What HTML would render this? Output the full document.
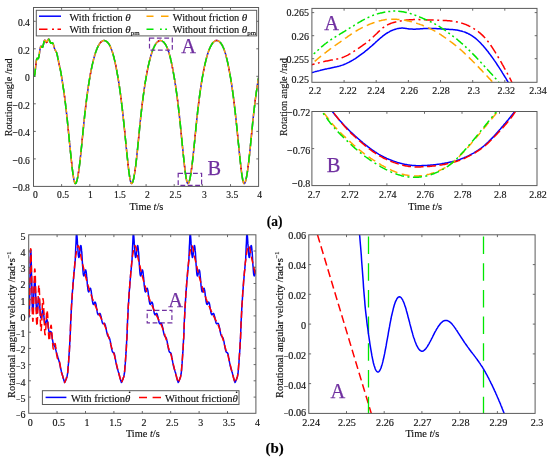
<!DOCTYPE html><html><head><meta charset="utf-8"><title>Figure</title><style>html,body{margin:0;padding:0;background:#fff}svg{display:block}</style></head><body>
<svg width="550" height="463" viewBox="0 0 550 463" font-family='"Liberation Serif", serif' fill="#111">
<rect width="550" height="463" fill="#fff"/>
<defs>
<clipPath id="c1"><rect x="33.5" y="7.5" width="225.1" height="178.9"/></clipPath>
<clipPath id="c2"><rect x="311.9" y="8.4" width="225.1" height="73.9"/></clipPath>
<clipPath id="c3"><rect x="311.9" y="111.5" width="225.1" height="74.1"/></clipPath>
<clipPath id="c4"><rect x="28.7" y="234.8" width="227.2" height="178.5"/></clipPath>
<clipPath id="c5"><rect x="308.8" y="234.8" width="226.3" height="178.6"/></clipPath>
</defs>
<g clip-path="url(#c1)" fill="none" stroke-width="1.5" stroke-linejoin="round">
<path d="M33.5 76.3L34.0 76.2L34.4 75.7L34.9 73.8L35.3 69.9L35.8 65.5L36.2 61.6L36.7 59.1L37.1 58.3L37.6 58.4L38.0 58.7L38.5 58.2L38.9 56.5L39.4 53.7L39.8 50.6L40.3 47.9L40.7 46.4L41.2 46.1L41.6 46.6L42.1 47.3L42.5 47.3L43.0 46.3L43.4 44.5L43.9 42.5L44.3 40.8L44.8 40.1L45.2 40.3L45.7 41.1L46.1 42.0L46.6 42.5L47.0 42.2L47.5 41.2L47.9 40.1L48.4 39.2L48.8 39.1L49.3 39.8L49.7 40.9L50.2 42.2L50.6 43.0L51.1 43.3L51.5 43.1L52.0 42.7L52.4 42.7L52.9 43.2L53.3 44.3L53.8 45.9L54.2 47.6L54.7 49.0L55.1 50.0L55.6 50.8L56.0 51.5L56.5 52.4L56.9 53.9L57.4 55.7L57.8 57.9L58.3 60.2L58.7 62.4L59.2 64.4L59.6 66.4L60.1 68.3L60.5 70.5L61.0 72.9L61.4 75.6L61.9 78.5L62.3 81.4L62.8 84.4L63.2 87.4L63.7 90.4L64.1 93.5L64.6 96.8L65.0 100.3L65.5 104.0L65.9 107.9L66.4 111.9L66.8 115.9L67.3 120.1L67.7 124.3L68.2 128.7L68.6 133.2L69.1 137.8L69.5 142.4L70.0 146.9L70.4 151.4L70.9 155.7L71.3 160.0L71.8 164.2L72.2 168.2L72.7 171.8L73.1 175.1L73.6 177.9L74.0 180.3L74.5 182.1L74.9 183.3L75.4 183.6L75.8 183.4L76.3 182.6L76.7 181.3L77.2 179.7L77.6 177.6L78.1 175.1L78.5 172.3L79.0 169.2L79.4 165.8L79.9 162.1L80.3 158.1L80.8 154.0L81.2 149.7L81.7 145.2L82.1 140.7L82.6 136.1L83.0 131.5L83.5 126.9L83.9 122.5L84.4 118.2L84.8 114.1L85.3 110.1L85.7 106.3L86.2 102.6L86.6 99.0L87.1 95.6L87.5 92.3L88.0 89.1L88.4 86.0L88.9 83.1L89.3 80.3L89.8 77.6L90.2 75.1L90.7 72.6L91.1 70.3L91.6 68.1L92.0 65.9L92.5 63.9L92.9 62.0L93.4 60.2L93.8 58.4L94.3 56.8L94.7 55.2L95.2 53.8L95.6 52.4L96.1 51.1L96.5 49.9L97.0 48.8L97.4 47.7L97.9 46.8L98.3 45.9L98.8 45.1L99.2 44.3L99.7 43.6L100.1 43.0L100.6 42.5L101.0 42.0L101.5 41.6L101.9 41.3L102.4 41.0L102.8 40.8L103.3 40.6L103.7 40.5L104.2 40.5L104.6 40.6L105.1 40.7L105.5 40.9L106.0 41.1L106.4 41.4L106.9 41.7L107.3 42.1L107.8 42.6L108.2 43.1L108.7 43.7L109.1 44.4L109.6 45.2L110.0 46.0L110.5 47.0L110.9 48.0L111.4 49.1L111.8 50.4L112.3 51.7L112.7 53.1L113.2 54.6L113.6 56.3L114.1 58.0L114.5 59.9L115.0 61.8L115.4 63.9L115.9 66.1L116.3 68.4L116.8 70.8L117.2 73.3L117.7 75.9L118.1 78.5L118.6 81.3L119.0 84.1L119.5 87.2L119.9 90.3L120.4 93.6L120.8 97.0L121.3 100.5L121.7 104.2L122.2 107.9L122.6 111.9L123.1 115.9L123.5 120.1L124.0 124.3L124.4 128.7L124.9 133.2L125.3 137.8L125.8 142.4L126.2 146.9L126.7 151.4L127.1 155.7L127.6 160.0L128.0 164.2L128.5 168.2L128.9 171.8L129.4 175.1L129.8 177.9L130.3 180.3L130.7 182.1L131.2 183.3L131.6 183.6L132.1 183.4L132.5 182.6L133.0 181.3L133.4 179.7L133.9 177.6L134.3 175.1L134.8 172.3L135.2 169.2L135.7 165.8L136.1 162.1L136.6 158.1L137.0 154.0L137.5 149.7L137.9 145.2L138.4 140.7L138.8 136.1L139.3 131.5L139.7 126.9L140.2 122.5L140.6 118.2L141.1 114.1L141.5 110.1L142.0 106.3L142.4 102.6L142.9 99.0L143.3 95.6L143.8 92.3L144.2 89.1L144.7 86.0L145.1 83.1L145.6 80.3L146.1 77.6L146.5 75.1L147.0 72.6L147.4 70.3L147.9 68.1L148.3 65.9L148.8 63.9L149.2 62.0L149.7 60.2L150.1 58.4L150.6 56.8L151.0 55.2L151.5 53.8L151.9 52.4L152.4 51.1L152.8 49.9L153.3 48.8L153.7 47.7L154.2 46.8L154.6 45.9L155.1 45.1L155.5 44.3L156.0 43.6L156.4 43.0L156.9 42.5L157.3 42.0L157.8 41.6L158.2 41.3L158.7 41.0L159.1 40.8L159.6 40.6L160.0 40.5L160.5 40.5L160.9 40.6L161.4 40.7L161.8 40.9L162.3 41.1L162.7 41.4L163.2 41.7L163.6 42.1L164.1 42.6L164.5 43.1L165.0 43.7L165.4 44.4L165.9 45.2L166.3 46.0L166.8 47.0L167.2 48.0L167.7 49.1L168.1 50.4L168.6 51.7L169.0 53.1L169.5 54.6L169.9 56.3L170.4 58.0L170.8 59.9L171.3 61.8L171.7 63.9L172.2 66.1L172.6 68.4L173.1 70.8L173.5 73.3L174.0 75.9L174.4 78.5L174.9 81.3L175.3 84.1L175.8 87.2L176.2 90.3L176.7 93.6L177.1 97.0L177.6 100.5L178.0 104.2L178.5 107.9L178.9 111.9L179.4 115.9L179.8 120.1L180.3 124.3L180.7 128.7L181.2 133.2L181.6 137.8L182.1 142.4L182.5 146.9L183.0 151.4L183.4 155.7L183.9 160.0L184.3 164.2L184.8 168.2L185.2 171.8L185.7 175.1L186.1 177.9L186.6 180.3L187.0 182.1L187.5 183.3L187.9 183.6L188.4 183.4L188.8 182.6L189.3 181.3L189.7 179.7L190.2 177.6L190.6 175.1L191.1 172.3L191.5 169.2L192.0 165.8L192.4 162.1L192.9 158.1L193.3 154.0L193.8 149.7L194.2 145.2L194.7 140.7L195.1 136.1L195.6 131.5L196.0 126.9L196.5 122.5L196.9 118.2L197.4 114.1L197.8 110.1L198.3 106.3L198.7 102.6L199.2 99.0L199.6 95.6L200.1 92.3L200.5 89.1L201.0 86.0L201.4 83.1L201.9 80.3L202.3 77.6L202.8 75.1L203.2 72.6L203.7 70.3L204.1 68.1L204.6 65.9L205.0 63.9L205.5 62.0L205.9 60.2L206.4 58.4L206.8 56.8L207.3 55.2L207.7 53.8L208.2 52.4L208.6 51.1L209.1 49.9L209.5 48.8L210.0 47.7L210.4 46.8L210.9 45.9L211.3 45.1L211.8 44.3L212.2 43.6L212.7 43.0L213.1 42.5L213.6 42.0L214.0 41.6L214.5 41.3L214.9 41.0L215.4 40.8L215.8 40.6L216.3 40.5L216.7 40.5L217.2 40.6L217.6 40.7L218.1 40.9L218.5 41.1L219.0 41.4L219.4 41.7L219.9 42.1L220.3 42.6L220.8 43.1L221.2 43.7L221.7 44.4L222.1 45.2L222.6 46.0L223.0 47.0L223.5 48.0L223.9 49.1L224.4 50.4L224.8 51.7L225.3 53.1L225.7 54.6L226.2 56.3L226.6 58.0L227.1 59.9L227.5 61.8L228.0 63.9L228.4 66.1L228.9 68.4L229.3 70.8L229.8 73.3L230.2 75.9L230.7 78.5L231.1 81.3L231.6 84.1L232.0 87.2L232.5 90.3L232.9 93.6L233.4 97.0L233.8 100.5L234.3 104.2L234.7 107.9L235.2 111.9L235.6 115.9L236.1 120.1L236.5 124.3L237.0 128.7L237.4 133.2L237.9 137.8L238.3 142.4L238.8 146.9L239.2 151.4L239.7 155.7L240.1 160.0L240.6 164.2L241.0 168.2L241.5 171.8L241.9 175.1L242.4 177.9L242.8 180.3L243.3 182.1L243.7 183.3L244.2 183.6L244.6 183.4L245.1 182.6L245.5 181.3L246.0 179.7L246.4 177.6L246.9 175.1L247.3 172.3L247.8 169.2L248.2 165.8L248.7 162.1L249.1 158.1L249.6 154.0L250.0 149.7L250.5 145.2L250.9 140.7L251.4 136.1L251.8 131.5L252.3 126.9L252.7 122.5L253.2 118.2L253.6 114.1L254.1 110.1L254.5 106.3L255.0 102.6L255.4 99.0L255.9 95.6L256.3 92.3L256.8 89.1L257.2 86.0L257.7 83.1L258.1 80.3L258.6 77.6" stroke="#0000ff"/>
<path d="M33.5 76.3L34.0 76.2L34.4 75.7L34.9 73.8L35.3 69.9L35.8 65.5L36.2 61.6L36.7 59.1L37.1 58.3L37.6 58.4L38.0 58.7L38.5 58.2L38.9 56.5L39.4 53.7L39.8 50.6L40.3 47.9L40.7 46.4L41.2 46.1L41.6 46.6L42.1 47.3L42.5 47.3L43.0 46.3L43.4 44.5L43.9 42.5L44.3 40.8L44.8 40.1L45.2 40.3L45.7 41.1L46.1 42.0L46.6 42.5L47.0 42.2L47.5 41.2L47.9 40.1L48.4 39.2L48.8 39.1L49.3 39.8L49.7 40.9L50.2 42.2L50.6 43.0L51.1 43.3L51.5 43.1L52.0 42.7L52.4 42.7L52.9 43.2L53.3 44.3L53.8 45.9L54.2 47.6L54.7 49.0L55.1 50.0L55.6 50.8L56.0 51.5L56.5 52.4L56.9 53.9L57.4 55.7L57.8 57.9L58.3 60.2L58.7 62.4L59.2 64.4L59.6 66.4L60.1 68.3L60.5 70.5L61.0 72.9L61.4 75.6L61.9 78.5L62.3 81.4L62.8 84.4L63.2 87.4L63.7 90.4L64.1 93.5L64.6 96.8L65.0 100.3L65.5 104.0L65.9 107.9L66.4 111.9L66.8 115.9L67.3 120.1L67.7 124.3L68.2 128.7L68.6 133.2L69.1 137.8L69.5 142.4L70.0 146.9L70.4 151.4L70.9 155.7L71.3 160.0L71.8 164.2L72.2 168.2L72.7 171.8L73.1 175.1L73.6 177.9L74.0 180.3L74.5 182.1L74.9 183.3L75.4 183.6L75.8 183.4L76.3 182.6L76.7 181.3L77.2 179.7L77.6 177.6L78.1 175.1L78.5 172.3L79.0 169.2L79.4 165.8L79.9 162.1L80.3 158.1L80.8 154.0L81.2 149.7L81.7 145.2L82.1 140.7L82.6 136.1L83.0 131.5L83.5 126.9L83.9 122.5L84.4 118.2L84.8 114.1L85.3 110.1L85.7 106.3L86.2 102.6L86.6 99.0L87.1 95.6L87.5 92.3L88.0 89.1L88.4 86.0L88.9 83.1L89.3 80.3L89.8 77.6L90.2 75.1L90.7 72.6L91.1 70.3L91.6 68.1L92.0 65.9L92.5 63.9L92.9 62.0L93.4 60.2L93.8 58.4L94.3 56.8L94.7 55.2L95.2 53.8L95.6 52.4L96.1 51.1L96.5 49.9L97.0 48.8L97.4 47.7L97.9 46.8L98.3 45.9L98.8 45.1L99.2 44.3L99.7 43.6L100.1 43.0L100.6 42.5L101.0 42.0L101.5 41.6L101.9 41.3L102.4 41.0L102.8 40.8L103.3 40.6L103.7 40.5L104.2 40.5L104.6 40.6L105.1 40.7L105.5 40.9L106.0 41.1L106.4 41.4L106.9 41.7L107.3 42.1L107.8 42.6L108.2 43.1L108.7 43.7L109.1 44.4L109.6 45.2L110.0 46.0L110.5 47.0L110.9 48.0L111.4 49.1L111.8 50.4L112.3 51.7L112.7 53.1L113.2 54.6L113.6 56.3L114.1 58.0L114.5 59.9L115.0 61.8L115.4 63.9L115.9 66.1L116.3 68.4L116.8 70.8L117.2 73.3L117.7 75.9L118.1 78.5L118.6 81.3L119.0 84.1L119.5 87.2L119.9 90.3L120.4 93.6L120.8 97.0L121.3 100.5L121.7 104.2L122.2 107.9L122.6 111.9L123.1 115.9L123.5 120.1L124.0 124.3L124.4 128.7L124.9 133.2L125.3 137.8L125.8 142.4L126.2 146.9L126.7 151.4L127.1 155.7L127.6 160.0L128.0 164.2L128.5 168.2L128.9 171.8L129.4 175.1L129.8 177.9L130.3 180.3L130.7 182.1L131.2 183.3L131.6 183.6L132.1 183.4L132.5 182.6L133.0 181.3L133.4 179.7L133.9 177.6L134.3 175.1L134.8 172.3L135.2 169.2L135.7 165.8L136.1 162.1L136.6 158.1L137.0 154.0L137.5 149.7L137.9 145.2L138.4 140.7L138.8 136.1L139.3 131.5L139.7 126.9L140.2 122.5L140.6 118.2L141.1 114.1L141.5 110.1L142.0 106.3L142.4 102.6L142.9 99.0L143.3 95.6L143.8 92.3L144.2 89.1L144.7 86.0L145.1 83.1L145.6 80.3L146.1 77.6L146.5 75.1L147.0 72.6L147.4 70.3L147.9 68.1L148.3 65.9L148.8 63.9L149.2 62.0L149.7 60.2L150.1 58.4L150.6 56.8L151.0 55.2L151.5 53.8L151.9 52.4L152.4 51.1L152.8 49.9L153.3 48.8L153.7 47.7L154.2 46.8L154.6 45.9L155.1 45.1L155.5 44.3L156.0 43.6L156.4 43.0L156.9 42.5L157.3 42.0L157.8 41.6L158.2 41.3L158.7 41.0L159.1 40.8L159.6 40.6L160.0 40.5L160.5 40.5L160.9 40.6L161.4 40.7L161.8 40.9L162.3 41.1L162.7 41.4L163.2 41.7L163.6 42.1L164.1 42.6L164.5 43.1L165.0 43.7L165.4 44.4L165.9 45.2L166.3 46.0L166.8 47.0L167.2 48.0L167.7 49.1L168.1 50.4L168.6 51.7L169.0 53.1L169.5 54.6L169.9 56.3L170.4 58.0L170.8 59.9L171.3 61.8L171.7 63.9L172.2 66.1L172.6 68.4L173.1 70.8L173.5 73.3L174.0 75.9L174.4 78.5L174.9 81.3L175.3 84.1L175.8 87.2L176.2 90.3L176.7 93.6L177.1 97.0L177.6 100.5L178.0 104.2L178.5 107.9L178.9 111.9L179.4 115.9L179.8 120.1L180.3 124.3L180.7 128.7L181.2 133.2L181.6 137.8L182.1 142.4L182.5 146.9L183.0 151.4L183.4 155.7L183.9 160.0L184.3 164.2L184.8 168.2L185.2 171.8L185.7 175.1L186.1 177.9L186.6 180.3L187.0 182.1L187.5 183.3L187.9 183.6L188.4 183.4L188.8 182.6L189.3 181.3L189.7 179.7L190.2 177.6L190.6 175.1L191.1 172.3L191.5 169.2L192.0 165.8L192.4 162.1L192.9 158.1L193.3 154.0L193.8 149.7L194.2 145.2L194.7 140.7L195.1 136.1L195.6 131.5L196.0 126.9L196.5 122.5L196.9 118.2L197.4 114.1L197.8 110.1L198.3 106.3L198.7 102.6L199.2 99.0L199.6 95.6L200.1 92.3L200.5 89.1L201.0 86.0L201.4 83.1L201.9 80.3L202.3 77.6L202.8 75.1L203.2 72.6L203.7 70.3L204.1 68.1L204.6 65.9L205.0 63.9L205.5 62.0L205.9 60.2L206.4 58.4L206.8 56.8L207.3 55.2L207.7 53.8L208.2 52.4L208.6 51.1L209.1 49.9L209.5 48.8L210.0 47.7L210.4 46.8L210.9 45.9L211.3 45.1L211.8 44.3L212.2 43.6L212.7 43.0L213.1 42.5L213.6 42.0L214.0 41.6L214.5 41.3L214.9 41.0L215.4 40.8L215.8 40.6L216.3 40.5L216.7 40.5L217.2 40.6L217.6 40.7L218.1 40.9L218.5 41.1L219.0 41.4L219.4 41.7L219.9 42.1L220.3 42.6L220.8 43.1L221.2 43.7L221.7 44.4L222.1 45.2L222.6 46.0L223.0 47.0L223.5 48.0L223.9 49.1L224.4 50.4L224.8 51.7L225.3 53.1L225.7 54.6L226.2 56.3L226.6 58.0L227.1 59.9L227.5 61.8L228.0 63.9L228.4 66.1L228.9 68.4L229.3 70.8L229.8 73.3L230.2 75.9L230.7 78.5L231.1 81.3L231.6 84.1L232.0 87.2L232.5 90.3L232.9 93.6L233.4 97.0L233.8 100.5L234.3 104.2L234.7 107.9L235.2 111.9L235.6 115.9L236.1 120.1L236.5 124.3L237.0 128.7L237.4 133.2L237.9 137.8L238.3 142.4L238.8 146.9L239.2 151.4L239.7 155.7L240.1 160.0L240.6 164.2L241.0 168.2L241.5 171.8L241.9 175.1L242.4 177.9L242.8 180.3L243.3 182.1L243.7 183.3L244.2 183.6L244.6 183.4L245.1 182.6L245.5 181.3L246.0 179.7L246.4 177.6L246.9 175.1L247.3 172.3L247.8 169.2L248.2 165.8L248.7 162.1L249.1 158.1L249.6 154.0L250.0 149.7L250.5 145.2L250.9 140.7L251.4 136.1L251.8 131.5L252.3 126.9L252.7 122.5L253.2 118.2L253.6 114.1L254.1 110.1L254.5 106.3L255.0 102.6L255.4 99.0L255.9 95.6L256.3 92.3L256.8 89.1L257.2 86.0L257.7 83.1L258.1 80.3L258.6 77.6" stroke="#ff0000" stroke-dasharray="0 11.7 1.8 19.7"/>
<path d="M33.5 76.3L34.0 76.2L34.4 75.7L34.9 73.8L35.3 69.9L35.8 65.5L36.2 61.6L36.7 59.1L37.1 58.3L37.6 58.4L38.0 58.7L38.5 58.2L38.9 56.5L39.4 53.7L39.8 50.6L40.3 47.9L40.7 46.4L41.2 46.1L41.6 46.6L42.1 47.3L42.5 47.3L43.0 46.3L43.4 44.5L43.9 42.5L44.3 40.8L44.8 40.1L45.2 40.3L45.7 41.1L46.1 42.0L46.6 42.5L47.0 42.2L47.5 41.2L47.9 40.1L48.4 39.2L48.8 39.1L49.3 39.8L49.7 40.9L50.2 42.2L50.6 43.0L51.1 43.3L51.5 43.1L52.0 42.7L52.4 42.7L52.9 43.2L53.3 44.3L53.8 45.9L54.2 47.6L54.7 49.0L55.1 50.0L55.6 50.8L56.0 51.5L56.5 52.4L56.9 53.9L57.4 55.7L57.8 57.9L58.3 60.2L58.7 62.4L59.2 64.4L59.6 66.4L60.1 68.3L60.5 70.5L61.0 72.9L61.4 75.6L61.9 78.5L62.3 81.4L62.8 84.4L63.2 87.4L63.7 90.4L64.1 93.5L64.6 96.8L65.0 100.3L65.5 104.0L65.9 107.9L66.4 111.9L66.8 115.9L67.3 120.1L67.7 124.3L68.2 128.7L68.6 133.2L69.1 137.8L69.5 142.4L70.0 146.9L70.4 151.4L70.9 155.7L71.3 160.0L71.8 164.2L72.2 168.2L72.7 171.8L73.1 175.1L73.6 177.9L74.0 180.3L74.5 182.1L74.9 183.3L75.4 183.6L75.8 183.4L76.3 182.6L76.7 181.3L77.2 179.7L77.6 177.6L78.1 175.1L78.5 172.3L79.0 169.2L79.4 165.8L79.9 162.1L80.3 158.1L80.8 154.0L81.2 149.7L81.7 145.2L82.1 140.7L82.6 136.1L83.0 131.5L83.5 126.9L83.9 122.5L84.4 118.2L84.8 114.1L85.3 110.1L85.7 106.3L86.2 102.6L86.6 99.0L87.1 95.6L87.5 92.3L88.0 89.1L88.4 86.0L88.9 83.1L89.3 80.3L89.8 77.6L90.2 75.1L90.7 72.6L91.1 70.3L91.6 68.1L92.0 65.9L92.5 63.9L92.9 62.0L93.4 60.2L93.8 58.4L94.3 56.8L94.7 55.2L95.2 53.8L95.6 52.4L96.1 51.1L96.5 49.9L97.0 48.8L97.4 47.7L97.9 46.8L98.3 45.9L98.8 45.1L99.2 44.3L99.7 43.6L100.1 43.0L100.6 42.5L101.0 42.0L101.5 41.6L101.9 41.3L102.4 41.0L102.8 40.8L103.3 40.6L103.7 40.5L104.2 40.5L104.6 40.6L105.1 40.7L105.5 40.9L106.0 41.1L106.4 41.4L106.9 41.7L107.3 42.1L107.8 42.6L108.2 43.1L108.7 43.7L109.1 44.4L109.6 45.2L110.0 46.0L110.5 47.0L110.9 48.0L111.4 49.1L111.8 50.4L112.3 51.7L112.7 53.1L113.2 54.6L113.6 56.3L114.1 58.0L114.5 59.9L115.0 61.8L115.4 63.9L115.9 66.1L116.3 68.4L116.8 70.8L117.2 73.3L117.7 75.9L118.1 78.5L118.6 81.3L119.0 84.1L119.5 87.2L119.9 90.3L120.4 93.6L120.8 97.0L121.3 100.5L121.7 104.2L122.2 107.9L122.6 111.9L123.1 115.9L123.5 120.1L124.0 124.3L124.4 128.7L124.9 133.2L125.3 137.8L125.8 142.4L126.2 146.9L126.7 151.4L127.1 155.7L127.6 160.0L128.0 164.2L128.5 168.2L128.9 171.8L129.4 175.1L129.8 177.9L130.3 180.3L130.7 182.1L131.2 183.3L131.6 183.6L132.1 183.4L132.5 182.6L133.0 181.3L133.4 179.7L133.9 177.6L134.3 175.1L134.8 172.3L135.2 169.2L135.7 165.8L136.1 162.1L136.6 158.1L137.0 154.0L137.5 149.7L137.9 145.2L138.4 140.7L138.8 136.1L139.3 131.5L139.7 126.9L140.2 122.5L140.6 118.2L141.1 114.1L141.5 110.1L142.0 106.3L142.4 102.6L142.9 99.0L143.3 95.6L143.8 92.3L144.2 89.1L144.7 86.0L145.1 83.1L145.6 80.3L146.1 77.6L146.5 75.1L147.0 72.6L147.4 70.3L147.9 68.1L148.3 65.9L148.8 63.9L149.2 62.0L149.7 60.2L150.1 58.4L150.6 56.8L151.0 55.2L151.5 53.8L151.9 52.4L152.4 51.1L152.8 49.9L153.3 48.8L153.7 47.7L154.2 46.8L154.6 45.9L155.1 45.1L155.5 44.3L156.0 43.6L156.4 43.0L156.9 42.5L157.3 42.0L157.8 41.6L158.2 41.3L158.7 41.0L159.1 40.8L159.6 40.6L160.0 40.5L160.5 40.5L160.9 40.6L161.4 40.7L161.8 40.9L162.3 41.1L162.7 41.4L163.2 41.7L163.6 42.1L164.1 42.6L164.5 43.1L165.0 43.7L165.4 44.4L165.9 45.2L166.3 46.0L166.8 47.0L167.2 48.0L167.7 49.1L168.1 50.4L168.6 51.7L169.0 53.1L169.5 54.6L169.9 56.3L170.4 58.0L170.8 59.9L171.3 61.8L171.7 63.9L172.2 66.1L172.6 68.4L173.1 70.8L173.5 73.3L174.0 75.9L174.4 78.5L174.9 81.3L175.3 84.1L175.8 87.2L176.2 90.3L176.7 93.6L177.1 97.0L177.6 100.5L178.0 104.2L178.5 107.9L178.9 111.9L179.4 115.9L179.8 120.1L180.3 124.3L180.7 128.7L181.2 133.2L181.6 137.8L182.1 142.4L182.5 146.9L183.0 151.4L183.4 155.7L183.9 160.0L184.3 164.2L184.8 168.2L185.2 171.8L185.7 175.1L186.1 177.9L186.6 180.3L187.0 182.1L187.5 183.3L187.9 183.6L188.4 183.4L188.8 182.6L189.3 181.3L189.7 179.7L190.2 177.6L190.6 175.1L191.1 172.3L191.5 169.2L192.0 165.8L192.4 162.1L192.9 158.1L193.3 154.0L193.8 149.7L194.2 145.2L194.7 140.7L195.1 136.1L195.6 131.5L196.0 126.9L196.5 122.5L196.9 118.2L197.4 114.1L197.8 110.1L198.3 106.3L198.7 102.6L199.2 99.0L199.6 95.6L200.1 92.3L200.5 89.1L201.0 86.0L201.4 83.1L201.9 80.3L202.3 77.6L202.8 75.1L203.2 72.6L203.7 70.3L204.1 68.1L204.6 65.9L205.0 63.9L205.5 62.0L205.9 60.2L206.4 58.4L206.8 56.8L207.3 55.2L207.7 53.8L208.2 52.4L208.6 51.1L209.1 49.9L209.5 48.8L210.0 47.7L210.4 46.8L210.9 45.9L211.3 45.1L211.8 44.3L212.2 43.6L212.7 43.0L213.1 42.5L213.6 42.0L214.0 41.6L214.5 41.3L214.9 41.0L215.4 40.8L215.8 40.6L216.3 40.5L216.7 40.5L217.2 40.6L217.6 40.7L218.1 40.9L218.5 41.1L219.0 41.4L219.4 41.7L219.9 42.1L220.3 42.6L220.8 43.1L221.2 43.7L221.7 44.4L222.1 45.2L222.6 46.0L223.0 47.0L223.5 48.0L223.9 49.1L224.4 50.4L224.8 51.7L225.3 53.1L225.7 54.6L226.2 56.3L226.6 58.0L227.1 59.9L227.5 61.8L228.0 63.9L228.4 66.1L228.9 68.4L229.3 70.8L229.8 73.3L230.2 75.9L230.7 78.5L231.1 81.3L231.6 84.1L232.0 87.2L232.5 90.3L232.9 93.6L233.4 97.0L233.8 100.5L234.3 104.2L234.7 107.9L235.2 111.9L235.6 115.9L236.1 120.1L236.5 124.3L237.0 128.7L237.4 133.2L237.9 137.8L238.3 142.4L238.8 146.9L239.2 151.4L239.7 155.7L240.1 160.0L240.6 164.2L241.0 168.2L241.5 171.8L241.9 175.1L242.4 177.9L242.8 180.3L243.3 182.1L243.7 183.3L244.2 183.6L244.6 183.4L245.1 182.6L245.5 181.3L246.0 179.7L246.4 177.6L246.9 175.1L247.3 172.3L247.8 169.2L248.2 165.8L248.7 162.1L249.1 158.1L249.6 154.0L250.0 149.7L250.5 145.2L250.9 140.7L251.4 136.1L251.8 131.5L252.3 126.9L252.7 122.5L253.2 118.2L253.6 114.1L254.1 110.1L254.5 106.3L255.0 102.6L255.4 99.0L255.9 95.6L256.3 92.3L256.8 89.1L257.2 86.0L257.7 83.1L258.1 80.3L258.6 77.6" stroke="#ffa500" stroke-dasharray="11.9 1.4 3.3 0"/>
<path d="M33.5 76.3L34.0 76.2L34.4 75.7L34.9 73.8L35.3 69.9L35.8 65.5L36.2 61.6L36.7 59.1L37.1 58.3L37.6 58.4L38.0 58.7L38.5 58.2L38.9 56.5L39.4 53.7L39.8 50.6L40.3 47.9L40.7 46.4L41.2 46.1L41.6 46.6L42.1 47.3L42.5 47.3L43.0 46.3L43.4 44.5L43.9 42.5L44.3 40.8L44.8 40.1L45.2 40.3L45.7 41.1L46.1 42.0L46.6 42.5L47.0 42.2L47.5 41.2L47.9 40.1L48.4 39.2L48.8 39.1L49.3 39.8L49.7 40.9L50.2 42.2L50.6 43.0L51.1 43.3L51.5 43.1L52.0 42.7L52.4 42.7L52.9 43.2L53.3 44.3L53.8 45.9L54.2 47.6L54.7 49.0L55.1 50.0L55.6 50.8L56.0 51.5L56.5 52.4L56.9 53.9L57.4 55.7L57.8 57.9L58.3 60.2L58.7 62.4L59.2 64.4L59.6 66.4L60.1 68.3L60.5 70.5L61.0 72.9L61.4 75.6L61.9 78.5L62.3 81.4L62.8 84.4L63.2 87.4L63.7 90.4L64.1 93.5L64.6 96.8L65.0 100.3L65.5 104.0L65.9 107.9L66.4 111.9L66.8 115.9L67.3 120.1L67.7 124.3L68.2 128.7L68.6 133.2L69.1 137.8L69.5 142.4L70.0 146.9L70.4 151.4L70.9 155.7L71.3 160.0L71.8 164.2L72.2 168.2L72.7 171.8L73.1 175.1L73.6 177.9L74.0 180.3L74.5 182.1L74.9 183.3L75.4 183.6L75.8 183.4L76.3 182.6L76.7 181.3L77.2 179.7L77.6 177.6L78.1 175.1L78.5 172.3L79.0 169.2L79.4 165.8L79.9 162.1L80.3 158.1L80.8 154.0L81.2 149.7L81.7 145.2L82.1 140.7L82.6 136.1L83.0 131.5L83.5 126.9L83.9 122.5L84.4 118.2L84.8 114.1L85.3 110.1L85.7 106.3L86.2 102.6L86.6 99.0L87.1 95.6L87.5 92.3L88.0 89.1L88.4 86.0L88.9 83.1L89.3 80.3L89.8 77.6L90.2 75.1L90.7 72.6L91.1 70.3L91.6 68.1L92.0 65.9L92.5 63.9L92.9 62.0L93.4 60.2L93.8 58.4L94.3 56.8L94.7 55.2L95.2 53.8L95.6 52.4L96.1 51.1L96.5 49.9L97.0 48.8L97.4 47.7L97.9 46.8L98.3 45.9L98.8 45.1L99.2 44.3L99.7 43.6L100.1 43.0L100.6 42.5L101.0 42.0L101.5 41.6L101.9 41.3L102.4 41.0L102.8 40.8L103.3 40.6L103.7 40.5L104.2 40.5L104.6 40.6L105.1 40.7L105.5 40.9L106.0 41.1L106.4 41.4L106.9 41.7L107.3 42.1L107.8 42.6L108.2 43.1L108.7 43.7L109.1 44.4L109.6 45.2L110.0 46.0L110.5 47.0L110.9 48.0L111.4 49.1L111.8 50.4L112.3 51.7L112.7 53.1L113.2 54.6L113.6 56.3L114.1 58.0L114.5 59.9L115.0 61.8L115.4 63.9L115.9 66.1L116.3 68.4L116.8 70.8L117.2 73.3L117.7 75.9L118.1 78.5L118.6 81.3L119.0 84.1L119.5 87.2L119.9 90.3L120.4 93.6L120.8 97.0L121.3 100.5L121.7 104.2L122.2 107.9L122.6 111.9L123.1 115.9L123.5 120.1L124.0 124.3L124.4 128.7L124.9 133.2L125.3 137.8L125.8 142.4L126.2 146.9L126.7 151.4L127.1 155.7L127.6 160.0L128.0 164.2L128.5 168.2L128.9 171.8L129.4 175.1L129.8 177.9L130.3 180.3L130.7 182.1L131.2 183.3L131.6 183.6L132.1 183.4L132.5 182.6L133.0 181.3L133.4 179.7L133.9 177.6L134.3 175.1L134.8 172.3L135.2 169.2L135.7 165.8L136.1 162.1L136.6 158.1L137.0 154.0L137.5 149.7L137.9 145.2L138.4 140.7L138.8 136.1L139.3 131.5L139.7 126.9L140.2 122.5L140.6 118.2L141.1 114.1L141.5 110.1L142.0 106.3L142.4 102.6L142.9 99.0L143.3 95.6L143.8 92.3L144.2 89.1L144.7 86.0L145.1 83.1L145.6 80.3L146.1 77.6L146.5 75.1L147.0 72.6L147.4 70.3L147.9 68.1L148.3 65.9L148.8 63.9L149.2 62.0L149.7 60.2L150.1 58.4L150.6 56.8L151.0 55.2L151.5 53.8L151.9 52.4L152.4 51.1L152.8 49.9L153.3 48.8L153.7 47.7L154.2 46.8L154.6 45.9L155.1 45.1L155.5 44.3L156.0 43.6L156.4 43.0L156.9 42.5L157.3 42.0L157.8 41.6L158.2 41.3L158.7 41.0L159.1 40.8L159.6 40.6L160.0 40.5L160.5 40.5L160.9 40.6L161.4 40.7L161.8 40.9L162.3 41.1L162.7 41.4L163.2 41.7L163.6 42.1L164.1 42.6L164.5 43.1L165.0 43.7L165.4 44.4L165.9 45.2L166.3 46.0L166.8 47.0L167.2 48.0L167.7 49.1L168.1 50.4L168.6 51.7L169.0 53.1L169.5 54.6L169.9 56.3L170.4 58.0L170.8 59.9L171.3 61.8L171.7 63.9L172.2 66.1L172.6 68.4L173.1 70.8L173.5 73.3L174.0 75.9L174.4 78.5L174.9 81.3L175.3 84.1L175.8 87.2L176.2 90.3L176.7 93.6L177.1 97.0L177.6 100.5L178.0 104.2L178.5 107.9L178.9 111.9L179.4 115.9L179.8 120.1L180.3 124.3L180.7 128.7L181.2 133.2L181.6 137.8L182.1 142.4L182.5 146.9L183.0 151.4L183.4 155.7L183.9 160.0L184.3 164.2L184.8 168.2L185.2 171.8L185.7 175.1L186.1 177.9L186.6 180.3L187.0 182.1L187.5 183.3L187.9 183.6L188.4 183.4L188.8 182.6L189.3 181.3L189.7 179.7L190.2 177.6L190.6 175.1L191.1 172.3L191.5 169.2L192.0 165.8L192.4 162.1L192.9 158.1L193.3 154.0L193.8 149.7L194.2 145.2L194.7 140.7L195.1 136.1L195.6 131.5L196.0 126.9L196.5 122.5L196.9 118.2L197.4 114.1L197.8 110.1L198.3 106.3L198.7 102.6L199.2 99.0L199.6 95.6L200.1 92.3L200.5 89.1L201.0 86.0L201.4 83.1L201.9 80.3L202.3 77.6L202.8 75.1L203.2 72.6L203.7 70.3L204.1 68.1L204.6 65.9L205.0 63.9L205.5 62.0L205.9 60.2L206.4 58.4L206.8 56.8L207.3 55.2L207.7 53.8L208.2 52.4L208.6 51.1L209.1 49.9L209.5 48.8L210.0 47.7L210.4 46.8L210.9 45.9L211.3 45.1L211.8 44.3L212.2 43.6L212.7 43.0L213.1 42.5L213.6 42.0L214.0 41.6L214.5 41.3L214.9 41.0L215.4 40.8L215.8 40.6L216.3 40.5L216.7 40.5L217.2 40.6L217.6 40.7L218.1 40.9L218.5 41.1L219.0 41.4L219.4 41.7L219.9 42.1L220.3 42.6L220.8 43.1L221.2 43.7L221.7 44.4L222.1 45.2L222.6 46.0L223.0 47.0L223.5 48.0L223.9 49.1L224.4 50.4L224.8 51.7L225.3 53.1L225.7 54.6L226.2 56.3L226.6 58.0L227.1 59.9L227.5 61.8L228.0 63.9L228.4 66.1L228.9 68.4L229.3 70.8L229.8 73.3L230.2 75.9L230.7 78.5L231.1 81.3L231.6 84.1L232.0 87.2L232.5 90.3L232.9 93.6L233.4 97.0L233.8 100.5L234.3 104.2L234.7 107.9L235.2 111.9L235.6 115.9L236.1 120.1L236.5 124.3L237.0 128.7L237.4 133.2L237.9 137.8L238.3 142.4L238.8 146.9L239.2 151.4L239.7 155.7L240.1 160.0L240.6 164.2L241.0 168.2L241.5 171.8L241.9 175.1L242.4 177.9L242.8 180.3L243.3 182.1L243.7 183.3L244.2 183.6L244.6 183.4L245.1 182.6L245.5 181.3L246.0 179.7L246.4 177.6L246.9 175.1L247.3 172.3L247.8 169.2L248.2 165.8L248.7 162.1L249.1 158.1L249.6 154.0L250.0 149.7L250.5 145.2L250.9 140.7L251.4 136.1L251.8 131.5L252.3 126.9L252.7 122.5L253.2 118.2L253.6 114.1L254.1 110.1L254.5 106.3L255.0 102.6L255.4 99.0L255.9 95.6L256.3 92.3L256.8 89.1L257.2 86.0L257.7 83.1L258.1 80.3L258.6 77.6" stroke="#00e600" stroke-dasharray="8.4 8.2"/>
</g>
<rect x="33.5" y="7.5" width="225.1" height="178.9" fill="none" stroke="#5a5a5a" stroke-width="1"/>
<path d="M61.6 186.4v-2.3M61.6 7.5v2.3M89.8 186.4v-2.3M89.8 7.5v2.3M117.9 186.4v-2.3M117.9 7.5v2.3M146.1 186.4v-2.3M146.1 7.5v2.3M174.2 186.4v-2.3M174.2 7.5v2.3M202.3 186.4v-2.3M202.3 7.5v2.3M230.5 186.4v-2.3M230.5 7.5v2.3M33.5 158.9h2.3M258.6 158.9h-2.3M33.5 131.4h2.3M258.6 131.4h-2.3M33.5 103.8h2.3M258.6 103.8h-2.3M33.5 76.3h2.3M258.6 76.3h-2.3M33.5 48.8h2.3M258.6 48.8h-2.3M33.5 21.3h2.3M258.6 21.3h-2.3" stroke="#5a5a5a" stroke-width="0.9" fill="none"/>
<text transform="translate(35.4 198.4) scale(0.96 1)" text-anchor="middle" font-size="10" stroke="#111" stroke-width="0.15">0</text>
<text transform="translate(63.1 198.4) scale(0.96 1)" text-anchor="middle" font-size="10" stroke="#111" stroke-width="0.15">0.5</text>
<text transform="translate(90.4 198.4) scale(0.96 1)" text-anchor="middle" font-size="10" stroke="#111" stroke-width="0.15">1</text>
<text transform="translate(119.9 198.4) scale(0.96 1)" text-anchor="middle" font-size="10" stroke="#111" stroke-width="0.15">1.5</text>
<text transform="translate(147.5 198.4) scale(0.96 1)" text-anchor="middle" font-size="10" stroke="#111" stroke-width="0.15">2</text>
<text transform="translate(175.6 198.4) scale(0.96 1)" text-anchor="middle" font-size="10" stroke="#111" stroke-width="0.15">2.5</text>
<text transform="translate(204.3 198.4) scale(0.96 1)" text-anchor="middle" font-size="10" stroke="#111" stroke-width="0.15">3</text>
<text transform="translate(232.3 198.4) scale(0.96 1)" text-anchor="middle" font-size="10" stroke="#111" stroke-width="0.15">3.5</text>
<text transform="translate(259.7 198.4) scale(0.96 1)" text-anchor="middle" font-size="10" stroke="#111" stroke-width="0.15">4</text>
<text transform="translate(29.9 191.1) scale(0.96 1)" text-anchor="end" font-size="10" stroke="#111" stroke-width="0.15">−0.8</text>
<text transform="translate(29.9 163.6) scale(0.96 1)" text-anchor="end" font-size="10" stroke="#111" stroke-width="0.15">−0.6</text>
<text transform="translate(29.9 136.1) scale(0.96 1)" text-anchor="end" font-size="10" stroke="#111" stroke-width="0.15">−0.4</text>
<text transform="translate(29.9 108.5) scale(0.96 1)" text-anchor="end" font-size="10" stroke="#111" stroke-width="0.15">−0.2</text>
<text transform="translate(29.9 81.0) scale(0.96 1)" text-anchor="end" font-size="10" stroke="#111" stroke-width="0.15">0</text>
<text transform="translate(29.9 53.5) scale(0.96 1)" text-anchor="end" font-size="10" stroke="#111" stroke-width="0.15">0.2</text>
<text transform="translate(29.9 26.0) scale(0.96 1)" text-anchor="end" font-size="10" stroke="#111" stroke-width="0.15">0.4</text>
<rect x="36.3" y="10.3" width="220.4" height="25.6" fill="#fff" stroke="#5a5a5a" stroke-width="1"/>
<g fill="none" stroke-width="1.5">
<path d="M39 16.2H61" stroke="#0000ff"/>
<path d="M39 29.3H61" stroke="#ff0000" stroke-dasharray="8.5 4.5 2 3.5 4 0"/>
<path d="M146.5 16.2H168.5" stroke="#ffa500" stroke-dasharray="7 7.5 8 0"/>
<path d="M146.5 29.3H168.5" stroke="#00e600" stroke-dasharray="7 6.5 1.8 3.4 1.8 3"/>
</g>
<text transform="translate(69.5 20.6) scale(0.985 1)" text-anchor="start" font-size="10.5" stroke="#111" stroke-width="0.15">With friction <tspan font-style="italic" font-size="11.3">θ</tspan></text>
<text transform="translate(69.5 32.9) scale(0.985 1)" text-anchor="start" font-size="10.5" stroke="#111" stroke-width="0.15">With friction <tspan font-style="italic" font-size="11.3">θ</tspan><tspan font-size="7" dy="2.2">pm</tspan></text>
<text transform="translate(172.8 20.6) scale(0.985 1)" text-anchor="start" font-size="10.5" stroke="#111" stroke-width="0.15">Without friction <tspan font-style="italic" font-size="11.3">θ</tspan></text>
<text transform="translate(172.8 32.9) scale(0.985 1)" text-anchor="start" font-size="10.5" stroke="#111" stroke-width="0.15">Without friction <tspan font-style="italic" font-size="11.3">θ</tspan><tspan font-size="7" dy="2.2">pm</tspan></text>
<g fill="none" stroke="#7030a0" stroke-width="1.2" stroke-dasharray="4.8 2.6">
<rect x="149.5" y="38.2" width="22.8" height="12"/>
<rect x="178.2" y="173.4" width="23.4" height="12"/>
<rect x="147.2" y="310.3" width="24.7" height="12.6"/>
</g>
<g fill="#7030a0" font-size="20.4" stroke="#7030a0" stroke-width="0.25">
<text x="181.3" y="53.3">A</text>
<text x="207.6" y="175">B</text>
<text x="168.3" y="306.9">A</text>
<text x="324.2" y="29.5">A</text>
<text x="326.8" y="172.4">B</text>
<text x="330.5" y="398.3">A</text>
</g>
<text transform="translate(146.5 209.7) scale(0.985 1)" text-anchor="middle" font-size="10.5" stroke="#111" stroke-width="0.15">Time <tspan font-style="italic">t</tspan>/s</text>
<text transform="translate(11.7 97.4) rotate(-90) scale(0.968 1)" text-anchor="middle" font-size="10.5" stroke="#111" stroke-width="0.15">Rotation angle /rad</text>
<path d="M305.0 74.2L306.0 74.0L307.1 73.7L308.1 73.5L309.2 73.2L310.2 72.9L311.2 72.7L312.3 72.4L313.3 72.2L314.4 71.9L315.4 71.6L316.4 71.4L317.5 71.1L318.5 70.9L319.6 70.6L320.6 70.3L321.6 70.1L322.7 69.8L323.7 69.6L324.8 69.3L325.8 69.1L326.8 68.9L327.9 68.6L328.9 68.4L330.0 68.2L331.0 68.0L332.0 67.8L333.1 67.6L334.1 67.3L335.2 67.1L336.2 66.9L337.2 66.6L338.3 66.4L339.3 66.1L340.4 65.8L341.4 65.4L342.4 65.1L343.5 64.7L344.5 64.3L345.6 63.9L346.6 63.4L347.6 62.9L348.7 62.4L349.7 61.8L350.8 61.3L351.8 60.7L352.8 60.1L353.9 59.4L354.9 58.8L356.0 58.1L357.0 57.4L358.1 56.7L359.1 55.9L360.1 55.2L361.2 54.4L362.2 53.7L363.3 52.9L364.3 52.1L365.3 51.2L366.4 50.4L367.4 49.6L368.5 48.7L369.5 47.8L370.5 46.9L371.6 46.0L372.6 45.1L373.7 44.1L374.7 43.2L375.7 42.2L376.8 41.3L377.8 40.3L378.9 39.4L379.9 38.5L380.9 37.6L382.0 36.8L383.0 35.9L384.1 35.1L385.1 34.4L386.1 33.7L387.2 33.0L388.2 32.4L389.3 31.8L390.3 31.2L391.3 30.7L392.4 30.3L393.4 29.9L394.5 29.5L395.5 29.2L396.5 28.9L397.6 28.6L398.6 28.4L399.7 28.3L400.7 28.2L401.7 28.1L402.8 28.1L403.8 28.2L404.9 28.3L405.9 28.4L406.9 28.6L408.0 28.7L409.0 28.9L410.1 29.0L411.1 29.1L412.1 29.1L413.2 29.2L414.2 29.2L415.3 29.2L416.3 29.1L417.3 29.1L418.4 29.0L419.4 28.9L420.5 28.8L421.5 28.8L422.5 28.7L423.6 28.6L424.6 28.5L425.7 28.5L426.7 28.4L427.7 28.4L428.8 28.4L429.8 28.4L430.9 28.4L431.9 28.5L432.9 28.5L434.0 28.5L435.0 28.6L436.1 28.6L437.1 28.7L438.1 28.7L439.2 28.8L440.2 28.8L441.3 28.9L442.3 29.0L443.3 29.0L444.4 29.1L445.4 29.1L446.5 29.2L447.5 29.2L448.5 29.3L449.6 29.4L450.6 29.4L451.7 29.5L452.7 29.6L453.7 29.7L454.8 29.8L455.8 30.0L456.9 30.1L457.9 30.3L458.9 30.5L460.0 30.8L461.0 31.0L462.1 31.3L463.1 31.6L464.2 31.9L465.2 32.3L466.2 32.7L467.3 33.2L468.3 33.7L469.4 34.2L470.4 34.8L471.4 35.4L472.5 36.1L473.5 36.8L474.6 37.6L475.6 38.4L476.6 39.3L477.7 40.3L478.7 41.2L479.8 42.2L480.8 43.3L481.8 44.4L482.9 45.6L483.9 46.7L485.0 48.0L486.0 49.2L487.0 50.5L488.1 51.8L489.1 53.2L490.2 54.6L491.2 56.0L492.2 57.4L493.3 58.9L494.3 60.4L495.4 61.9L496.4 63.4L497.4 65.0L498.5 66.6L499.5 68.2L500.6 69.8L501.6 71.4L502.6 73.1L503.7 74.8L504.7 76.5L505.8 78.2L506.8 80.0L507.8 81.7L508.9 83.5L509.9 85.3L511.0 87.1L512.0 89.0" stroke="#0000ff" stroke-width="1.5" fill="none" clip-path="url(#c2)" stroke-linejoin="round"/>
<path d="M305.0 66.2L306.1 66.0L307.1 65.8L308.2 65.5L309.2 65.3L310.3 65.0L311.3 64.8L312.4 64.5L313.4 64.2L314.5 64.0L315.6 63.7L316.6 63.4L317.7 63.1L318.7 62.9L319.8 62.6L320.8 62.3L321.9 62.1L322.9 61.8L324.0 61.6L325.1 61.3L326.1 61.1L327.2 60.9L328.2 60.7L329.3 60.5L330.3 60.3L331.4 60.1L332.4 59.9L333.5 59.7L334.5 59.5L335.6 59.3L336.7 59.1L337.7 58.9L338.8 58.6L339.8 58.4L340.9 58.0L341.9 57.7L343.0 57.3L344.0 56.9L345.1 56.4L346.2 55.9L347.2 55.4L348.3 54.8L349.3 54.2L350.4 53.6L351.4 52.9L352.5 52.2L353.5 51.6L354.6 50.9L355.7 50.2L356.7 49.5L357.8 48.8L358.8 48.1L359.9 47.3L360.9 46.6L362.0 45.9L363.0 45.2L364.1 44.4L365.2 43.6L366.2 42.8L367.3 42.0L368.3 41.2L369.4 40.3L370.4 39.4L371.5 38.5L372.5 37.5L373.6 36.5L374.6 35.5L375.7 34.5L376.8 33.5L377.8 32.4L378.9 31.4L379.9 30.5L381.0 29.5L382.0 28.6L383.1 27.7L384.1 27.0L385.2 26.2L386.3 25.6L387.3 25.0L388.4 24.4L389.4 24.0L390.5 23.5L391.5 23.1L392.6 22.8L393.6 22.5L394.7 22.2L395.8 21.9L396.8 21.7L397.9 21.5L398.9 21.2L400.0 21.0L401.0 20.9L402.1 20.7L403.1 20.5L404.2 20.4L405.3 20.2L406.3 20.1L407.4 20.0L408.4 19.9L409.5 19.8L410.5 19.8L411.6 19.7L412.6 19.7L413.7 19.6L414.7 19.6L415.8 19.6L416.9 19.6L417.9 19.6L419.0 19.6L420.0 19.7L421.1 19.7L422.1 19.7L423.2 19.7L424.2 19.8L425.3 19.8L426.4 19.8L427.4 19.9L428.5 19.9L429.5 19.9L430.6 19.9L431.6 20.0L432.7 20.0L433.7 20.0L434.8 20.1L435.9 20.1L436.9 20.1L438.0 20.2L439.0 20.2L440.1 20.3L441.1 20.3L442.2 20.4L443.2 20.4L444.3 20.5L445.4 20.5L446.4 20.6L447.5 20.7L448.5 20.8L449.6 20.8L450.6 21.0L451.7 21.1L452.7 21.2L453.8 21.4L454.8 21.5L455.9 21.7L457.0 21.9L458.0 22.1L459.1 22.4L460.1 22.7L461.2 23.0L462.2 23.3L463.3 23.6L464.3 24.0L465.4 24.4L466.5 24.8L467.5 25.3L468.6 25.8L469.6 26.3L470.7 26.8L471.7 27.4L472.8 28.0L473.8 28.6L474.9 29.3L476.0 30.0L477.0 30.7L478.1 31.5L479.1 32.3L480.2 33.2L481.2 34.1L482.3 35.1L483.3 36.1L484.4 37.2L485.5 38.4L486.5 39.6L487.6 41.0L488.6 42.3L489.7 43.8L490.7 45.3L491.8 46.8L492.8 48.4L493.9 50.1L494.9 51.7L496.0 53.5L497.1 55.2L498.1 57.0L499.2 58.8L500.2 60.6L501.3 62.4L502.3 64.3L503.4 66.2L504.4 68.1L505.5 70.0L506.6 71.9L507.6 73.9L508.7 75.9L509.7 77.9L510.8 80.0L511.8 82.1L512.9 84.2L513.9 86.3L515.0 88.5" stroke="#ff0000" stroke-width="1.5" fill="none" stroke-dasharray="9.8 3.5 2 3.5" clip-path="url(#c2)" stroke-linejoin="round"/>
<path d="M305.0 69.6L306.0 68.8L306.9 67.9L307.9 67.1L308.9 66.3L309.8 65.5L310.8 64.6L311.7 63.8L312.7 63.0L313.7 62.2L314.6 61.4L315.6 60.6L316.6 59.8L317.5 59.0L318.5 58.2L319.4 57.4L320.4 56.6L321.4 55.8L322.3 55.1L323.3 54.3L324.3 53.5L325.2 52.8L326.2 52.1L327.1 51.3L328.1 50.6L329.1 49.9L330.0 49.2L331.0 48.5L332.0 47.8L332.9 47.1L333.9 46.4L334.8 45.7L335.8 45.0L336.8 44.3L337.7 43.7L338.7 43.0L339.7 42.3L340.6 41.6L341.6 41.0L342.5 40.3L343.5 39.6L344.5 38.9L345.4 38.2L346.4 37.6L347.4 36.9L348.3 36.2L349.3 35.5L350.3 34.9L351.2 34.2L352.2 33.6L353.1 32.9L354.1 32.3L355.1 31.7L356.0 31.1L357.0 30.5L358.0 29.9L358.9 29.3L359.9 28.8L360.8 28.3L361.8 27.8L362.8 27.3L363.7 26.8L364.7 26.4L365.7 25.9L366.6 25.5L367.6 25.1L368.5 24.7L369.5 24.3L370.5 23.9L371.4 23.5L372.4 23.2L373.4 22.8L374.3 22.5L375.3 22.1L376.2 21.8L377.2 21.5L378.2 21.2L379.1 20.9L380.1 20.7L381.1 20.5L382.0 20.2L383.0 20.1L384.0 19.9L384.9 19.7L385.9 19.6L386.8 19.5L387.8 19.5L388.8 19.4L389.7 19.4L390.7 19.3L391.7 19.3L392.6 19.3L393.6 19.3L394.5 19.3L395.5 19.3L396.5 19.3L397.4 19.4L398.4 19.4L399.4 19.5L400.3 19.6L401.3 19.7L402.2 19.8L403.2 19.9L404.2 20.1L405.1 20.3L406.1 20.5L407.1 20.7L408.0 20.9L409.0 21.1L409.9 21.4L410.9 21.6L411.9 21.9L412.8 22.2L413.8 22.4L414.8 22.7L415.7 23.0L416.7 23.3L417.6 23.6L418.6 23.9L419.6 24.3L420.5 24.6L421.5 24.9L422.5 25.3L423.4 25.7L424.4 26.1L425.4 26.5L426.3 26.9L427.3 27.3L428.2 27.7L429.2 28.2L430.2 28.6L431.1 29.1L432.1 29.6L433.1 30.1L434.0 30.6L435.0 31.2L435.9 31.7L436.9 32.3L437.9 32.9L438.8 33.5L439.8 34.1L440.8 34.7L441.7 35.4L442.7 36.0L443.6 36.7L444.6 37.3L445.6 38.0L446.5 38.7L447.5 39.4L448.5 40.1L449.4 40.8L450.4 41.5L451.3 42.2L452.3 42.9L453.3 43.7L454.2 44.4L455.2 45.2L456.2 45.9L457.1 46.7L458.1 47.5L459.1 48.3L460.0 49.1L461.0 50.0L461.9 50.8L462.9 51.7L463.9 52.6L464.8 53.5L465.8 54.4L466.8 55.3L467.7 56.2L468.7 57.2L469.6 58.1L470.6 59.1L471.6 60.0L472.5 61.0L473.5 62.0L474.5 63.0L475.4 64.0L476.4 64.9L477.3 65.9L478.3 66.9L479.3 67.9L480.2 68.9L481.2 69.9L482.2 70.9L483.1 72.0L484.1 73.0L485.0 74.0L486.0 75.0L487.0 76.0L487.9 77.0L488.9 78.1L489.9 79.1L490.8 80.1L491.8 81.1L492.7 82.2L493.7 83.2L494.7 84.2L495.6 85.3L496.6 86.3" stroke="#ffa500" stroke-width="1.5" fill="none" stroke-dasharray="8.3 4.4" clip-path="url(#c2)" stroke-linejoin="round"/>
<path d="M305.0 61.7L306.0 60.9L307.0 60.0L308.0 59.1L309.0 58.2L309.9 57.4L310.9 56.5L311.9 55.6L312.9 54.7L313.9 53.8L314.9 52.9L315.9 51.9L316.9 51.1L317.9 50.2L318.9 49.3L319.8 48.4L320.8 47.5L321.8 46.7L322.8 45.9L323.8 45.0L324.8 44.2L325.8 43.5L326.8 42.7L327.8 42.0L328.8 41.3L329.7 40.6L330.7 39.9L331.7 39.2L332.7 38.6L333.7 37.9L334.7 37.3L335.7 36.7L336.7 36.1L337.7 35.5L338.7 34.9L339.6 34.3L340.6 33.7L341.6 33.1L342.6 32.5L343.6 31.9L344.6 31.3L345.6 30.7L346.6 30.1L347.6 29.5L348.6 28.9L349.5 28.2L350.5 27.6L351.5 27.0L352.5 26.4L353.5 25.8L354.5 25.1L355.5 24.5L356.5 23.9L357.5 23.3L358.5 22.7L359.4 22.1L360.4 21.6L361.4 21.0L362.4 20.4L363.4 19.9L364.4 19.3L365.4 18.8L366.4 18.3L367.4 17.8L368.4 17.3L369.3 16.9L370.3 16.4L371.3 16.0L372.3 15.6L373.3 15.2L374.3 14.9L375.3 14.5L376.3 14.2L377.3 13.9L378.3 13.6L379.2 13.4L380.2 13.1L381.2 12.9L382.2 12.7L383.2 12.5L384.2 12.3L385.2 12.1L386.2 11.9L387.2 11.7L388.2 11.6L389.1 11.5L390.1 11.4L391.1 11.3L392.1 11.2L393.1 11.1L394.1 11.1L395.1 11.1L396.1 11.1L397.1 11.2L398.1 11.2L399.0 11.3L400.0 11.4L401.0 11.5L402.0 11.7L403.0 11.8L404.0 12.0L405.0 12.2L406.0 12.4L407.0 12.6L408.0 12.8L408.9 13.1L409.9 13.4L410.9 13.7L411.9 14.0L412.9 14.3L413.9 14.7L414.9 15.1L415.9 15.5L416.9 15.9L417.9 16.3L418.8 16.7L419.8 17.1L420.8 17.5L421.8 17.9L422.8 18.3L423.8 18.8L424.8 19.2L425.8 19.6L426.8 20.0L427.8 20.5L428.7 20.9L429.7 21.4L430.7 21.8L431.7 22.3L432.7 22.8L433.7 23.3L434.7 23.8L435.7 24.4L436.7 24.9L437.7 25.5L438.6 26.1L439.6 26.7L440.6 27.3L441.6 28.0L442.6 28.7L443.6 29.3L444.6 30.0L445.6 30.7L446.6 31.4L447.6 32.1L448.5 32.9L449.5 33.6L450.5 34.3L451.5 35.1L452.5 35.8L453.5 36.6L454.5 37.3L455.5 38.1L456.5 38.9L457.5 39.7L458.4 40.5L459.4 41.4L460.4 42.2L461.4 43.1L462.4 43.9L463.4 44.8L464.4 45.7L465.4 46.6L466.4 47.6L467.4 48.5L468.3 49.5L469.3 50.4L470.3 51.4L471.3 52.4L472.3 53.4L473.3 54.4L474.3 55.4L475.3 56.4L476.3 57.4L477.3 58.5L478.2 59.5L479.2 60.6L480.2 61.6L481.2 62.7L482.2 63.7L483.2 64.8L484.2 65.9L485.2 67.0L486.2 68.0L487.2 69.1L488.1 70.2L489.1 71.3L490.1 72.4L491.1 73.5L492.1 74.6L493.1 75.8L494.1 76.9L495.1 78.0L496.1 79.1L497.1 80.3L498.0 81.5L499.0 82.6L500.0 83.8L501.0 85.0L502.0 86.2" stroke="#00e600" stroke-width="1.5" fill="none" stroke-dasharray="8.7 3 2 3 2 3" clip-path="url(#c2)" stroke-linejoin="round"/>
<rect x="311.9" y="8.4" width="225.1" height="73.9" fill="none" stroke="#5a5a5a" stroke-width="1"/>
<path d="M344.1 82.3v-2.3M344.1 8.4v2.3M376.2 82.3v-2.3M376.2 8.4v2.3M408.4 82.3v-2.3M408.4 8.4v2.3M440.5 82.3v-2.3M440.5 8.4v2.3M472.7 82.3v-2.3M472.7 8.4v2.3M504.8 82.3v-2.3M504.8 8.4v2.3M311.9 58.7h2.3M537.0 58.7h-2.3M311.9 35.7h2.3M537.0 35.7h-2.3M311.9 12.6h2.3M537.0 12.6h-2.3" stroke="#5a5a5a" stroke-width="0.9" fill="none"/>
<text transform="translate(315.1 93.8)" text-anchor="middle" font-size="10" stroke="#111" stroke-width="0.15">2.2</text>
<text transform="translate(348.1 93.8)" text-anchor="middle" font-size="10" stroke="#111" stroke-width="0.15">2.22</text>
<text transform="translate(375.9 93.8)" text-anchor="middle" font-size="10" stroke="#111" stroke-width="0.15">2.24</text>
<text transform="translate(409.2 93.8)" text-anchor="middle" font-size="10" stroke="#111" stroke-width="0.15">2.26</text>
<text transform="translate(441.1 93.8)" text-anchor="middle" font-size="10" stroke="#111" stroke-width="0.15">2.28</text>
<text transform="translate(473.8 93.8)" text-anchor="middle" font-size="10" stroke="#111" stroke-width="0.15">2.3</text>
<text transform="translate(506.2 93.8)" text-anchor="middle" font-size="10" stroke="#111" stroke-width="0.15">2.32</text>
<text transform="translate(538.0 93.8)" text-anchor="middle" font-size="10" stroke="#111" stroke-width="0.15">2.34</text>
<text transform="translate(308.9 83.2)" text-anchor="end" font-size="10" stroke="#111" stroke-width="0.15">0.25</text>
<text transform="translate(308.9 63.4)" text-anchor="end" font-size="10" stroke="#111" stroke-width="0.15">0.255</text>
<text transform="translate(308.9 40.4)" text-anchor="end" font-size="10" stroke="#111" stroke-width="0.15">0.26</text>
<text transform="translate(308.9 16.3)" text-anchor="end" font-size="10" stroke="#111" stroke-width="0.15">0.265</text>
<path d="M326.0 103.0L327.0 104.4L328.0 105.7L328.9 107.1L329.9 108.4L330.9 109.7L331.9 111.0L332.9 112.2L333.8 113.4L334.8 114.7L335.8 115.8L336.8 117.0L337.8 118.2L338.7 119.3L339.7 120.4L340.7 121.5L341.7 122.6L342.7 123.7L343.6 124.7L344.6 125.8L345.6 126.8L346.6 127.8L347.6 128.8L348.5 129.7L349.5 130.7L350.5 131.7L351.5 132.6L352.5 133.5L353.4 134.4L354.4 135.3L355.4 136.2L356.4 137.1L357.4 138.0L358.3 138.8L359.3 139.7L360.3 140.5L361.3 141.4L362.3 142.2L363.2 143.0L364.2 143.8L365.2 144.6L366.2 145.4L367.2 146.1L368.1 146.9L369.1 147.6L370.1 148.4L371.1 149.1L372.1 149.8L373.0 150.5L374.0 151.1L375.0 151.8L376.0 152.4L377.0 153.1L377.9 153.7L378.9 154.3L379.9 154.8L380.9 155.4L381.9 155.9L382.8 156.5L383.8 157.0L384.8 157.4L385.8 157.9L386.8 158.4L387.7 158.8L388.7 159.2L389.7 159.6L390.7 160.0L391.7 160.4L392.6 160.8L393.6 161.1L394.6 161.5L395.6 161.8L396.6 162.1L397.5 162.4L398.5 162.7L399.5 163.0L400.5 163.3L401.5 163.5L402.4 163.8L403.4 164.0L404.4 164.2L405.4 164.4L406.4 164.6L407.3 164.8L408.3 165.0L409.3 165.1L410.3 165.2L411.3 165.3L412.2 165.4L413.2 165.5L414.2 165.6L415.2 165.6L416.2 165.7L417.1 165.7L418.1 165.7L419.1 165.7L420.1 165.7L421.1 165.7L422.0 165.6L423.0 165.6L424.0 165.5L425.0 165.5L425.9 165.4L426.9 165.4L427.9 165.3L428.9 165.2L429.9 165.2L430.8 165.1L431.8 165.0L432.8 164.9L433.8 164.8L434.8 164.7L435.7 164.6L436.7 164.4L437.7 164.3L438.7 164.2L439.7 164.1L440.6 163.9L441.6 163.8L442.6 163.6L443.6 163.5L444.6 163.3L445.5 163.1L446.5 162.9L447.5 162.7L448.5 162.5L449.5 162.3L450.4 162.1L451.4 161.9L452.4 161.6L453.4 161.4L454.4 161.1L455.3 160.9L456.3 160.6L457.3 160.3L458.3 159.9L459.3 159.6L460.2 159.3L461.2 158.9L462.2 158.5L463.2 158.1L464.2 157.7L465.1 157.3L466.1 156.9L467.1 156.4L468.1 156.0L469.1 155.5L470.0 155.0L471.0 154.4L472.0 153.9L473.0 153.4L474.0 152.8L474.9 152.2L475.9 151.6L476.9 151.0L477.9 150.3L478.9 149.7L479.8 149.0L480.8 148.3L481.8 147.5L482.8 146.8L483.8 146.0L484.7 145.2L485.7 144.3L486.7 143.4L487.7 142.5L488.7 141.6L489.6 140.6L490.6 139.6L491.6 138.6L492.6 137.6L493.6 136.6L494.5 135.5L495.5 134.4L496.5 133.3L497.5 132.2L498.5 131.1L499.4 130.0L500.4 128.9L501.4 127.7L502.4 126.6L503.4 125.5L504.3 124.3L505.3 123.2L506.3 122.0L507.3 120.8L508.3 119.7L509.2 118.5L510.2 117.3L511.2 116.0L512.2 114.8L513.2 113.6L514.1 112.3L515.1 111.1L516.1 109.8L517.1 108.6L518.1 107.3L519.0 106.0L520.0 104.8L521.0 103.5" stroke="#0000ff" stroke-width="1.5" fill="none" clip-path="url(#c3)" stroke-linejoin="round"/>
<path d="M326.5 103.0L327.5 104.3L328.5 105.6L329.4 107.0L330.4 108.3L331.4 109.6L332.4 110.9L333.4 112.3L334.4 113.6L335.3 114.9L336.3 116.2L337.3 117.4L338.3 118.7L339.3 120.0L340.2 121.2L341.2 122.4L342.2 123.6L343.2 124.8L344.2 125.9L345.1 127.0L346.1 128.1L347.1 129.2L348.1 130.2L349.1 131.2L350.1 132.2L351.0 133.2L352.0 134.1L353.0 135.0L354.0 135.9L355.0 136.8L355.9 137.7L356.9 138.6L357.9 139.4L358.9 140.3L359.9 141.2L360.8 142.0L361.8 142.8L362.8 143.7L363.8 144.5L364.8 145.3L365.8 146.1L366.7 146.9L367.7 147.7L368.7 148.5L369.7 149.2L370.7 150.0L371.6 150.7L372.6 151.4L373.6 152.1L374.6 152.7L375.6 153.4L376.6 154.0L377.5 154.6L378.5 155.2L379.5 155.8L380.5 156.4L381.5 156.9L382.4 157.4L383.4 158.0L384.4 158.5L385.4 158.9L386.4 159.4L387.3 159.8L388.3 160.3L389.3 160.7L390.3 161.1L391.3 161.5L392.3 161.9L393.2 162.2L394.2 162.6L395.2 162.9L396.2 163.3L397.2 163.6L398.1 163.9L399.1 164.2L400.1 164.5L401.1 164.7L402.1 165.0L403.0 165.2L404.0 165.5L405.0 165.7L406.0 165.9L407.0 166.1L408.0 166.2L408.9 166.4L409.9 166.5L410.9 166.6L411.9 166.7L412.9 166.8L413.8 166.8L414.8 166.9L415.8 166.9L416.8 166.9L417.8 166.9L418.8 166.9L419.7 166.9L420.7 166.9L421.7 166.8L422.7 166.8L423.7 166.8L424.6 166.7L425.6 166.7L426.6 166.6L427.6 166.5L428.6 166.5L429.5 166.4L430.5 166.3L431.5 166.2L432.5 166.1L433.5 166.0L434.5 165.9L435.4 165.8L436.4 165.7L437.4 165.5L438.4 165.4L439.4 165.3L440.3 165.1L441.3 164.9L442.3 164.8L443.3 164.6L444.3 164.4L445.3 164.2L446.2 164.0L447.2 163.8L448.2 163.6L449.2 163.4L450.2 163.1L451.1 162.9L452.1 162.7L453.1 162.4L454.1 162.1L455.1 161.8L456.0 161.5L457.0 161.2L458.0 160.9L459.0 160.5L460.0 160.2L461.0 159.8L461.9 159.4L462.9 159.0L463.9 158.6L464.9 158.2L465.9 157.7L466.8 157.2L467.8 156.7L468.8 156.2L469.8 155.7L470.8 155.2L471.7 154.7L472.7 154.1L473.7 153.5L474.7 153.0L475.7 152.4L476.7 151.7L477.6 151.1L478.6 150.5L479.6 149.8L480.6 149.1L481.6 148.4L482.5 147.7L483.5 146.9L484.5 146.1L485.5 145.3L486.5 144.5L487.5 143.6L488.4 142.7L489.4 141.7L490.4 140.8L491.4 139.8L492.4 138.8L493.3 137.8L494.3 136.8L495.3 135.8L496.3 134.7L497.3 133.7L498.2 132.6L499.2 131.6L500.2 130.5L501.2 129.4L502.2 128.4L503.2 127.3L504.1 126.2L505.1 125.1L506.1 123.9L507.1 122.8L508.1 121.6L509.0 120.4L510.0 119.1L511.0 117.9L512.0 116.5L513.0 115.2L513.9 113.8L514.9 112.4L515.9 111.1L516.9 109.7L517.9 108.4L518.9 107.0L519.8 105.8L520.8 104.6L521.8 103.5" stroke="#ff0000" stroke-width="1.5" fill="none" stroke-dasharray="9 3.5" clip-path="url(#c3)" stroke-linejoin="round"/>
<path d="M317.0 103.0L317.9 104.3L318.9 105.7L319.8 107.0L320.8 108.3L321.7 109.7L322.7 111.0L323.6 112.3L324.5 113.7L325.5 115.0L326.4 116.2L327.4 117.5L328.3 118.8L329.2 120.0L330.2 121.2L331.1 122.4L332.1 123.6L333.0 124.7L334.0 125.8L334.9 126.9L335.8 127.9L336.8 128.9L337.7 129.9L338.7 130.9L339.6 131.8L340.6 132.8L341.5 133.7L342.4 134.6L343.4 135.5L344.3 136.4L345.3 137.2L346.2 138.1L347.2 139.0L348.1 139.9L349.0 140.7L350.0 141.6L350.9 142.5L351.9 143.4L352.8 144.2L353.7 145.1L354.7 145.9L355.6 146.7L356.6 147.5L357.5 148.4L358.5 149.1L359.4 149.9L360.3 150.7L361.3 151.4L362.2 152.2L363.2 152.9L364.1 153.6L365.1 154.3L366.0 155.0L366.9 155.7L367.9 156.3L368.8 157.0L369.8 157.6L370.7 158.3L371.6 158.9L372.6 159.5L373.5 160.1L374.5 160.7L375.4 161.3L376.4 161.9L377.3 162.5L378.2 163.1L379.2 163.7L380.1 164.2L381.1 164.8L382.0 165.3L383.0 165.8L383.9 166.4L384.8 166.9L385.8 167.4L386.7 167.9L387.7 168.4L388.6 168.8L389.6 169.3L390.5 169.7L391.4 170.2L392.4 170.6L393.3 171.0L394.3 171.4L395.2 171.8L396.1 172.1L397.1 172.5L398.0 172.8L399.0 173.1L399.9 173.4L400.9 173.7L401.8 174.0L402.7 174.2L403.7 174.4L404.6 174.7L405.6 174.9L406.5 175.1L407.5 175.2L408.4 175.4L409.3 175.5L410.3 175.6L411.2 175.7L412.2 175.8L413.1 175.9L414.0 175.9L415.0 176.0L415.9 176.0L416.9 176.0L417.8 176.0L418.8 175.9L419.7 175.8L420.6 175.8L421.6 175.7L422.5 175.5L423.5 175.4L424.4 175.2L425.4 175.0L426.3 174.9L427.2 174.6L428.2 174.4L429.1 174.2L430.1 173.9L431.0 173.6L431.9 173.3L432.9 173.0L433.8 172.7L434.8 172.4L435.7 172.0L436.7 171.6L437.6 171.3L438.5 170.9L439.5 170.5L440.4 170.0L441.4 169.6L442.3 169.1L443.3 168.7L444.2 168.2L445.1 167.7L446.1 167.1L447.0 166.6L448.0 166.0L448.9 165.4L449.9 164.7L450.8 164.0L451.7 163.3L452.7 162.5L453.6 161.8L454.6 160.9L455.5 160.1L456.4 159.2L457.4 158.3L458.3 157.4L459.3 156.5L460.2 155.5L461.2 154.5L462.1 153.6L463.0 152.6L464.0 151.6L464.9 150.5L465.9 149.5L466.8 148.5L467.8 147.4L468.7 146.4L469.6 145.3L470.6 144.2L471.5 143.1L472.5 142.0L473.4 140.9L474.3 139.8L475.3 138.7L476.2 137.6L477.2 136.5L478.1 135.3L479.1 134.2L480.0 133.1L480.9 131.9L481.9 130.8L482.8 129.6L483.8 128.5L484.7 127.3L485.7 126.2L486.6 125.0L487.5 123.9L488.5 122.7L489.4 121.6L490.4 120.5L491.3 119.3L492.3 118.2L493.2 117.0L494.1 115.9L495.1 114.8L496.0 113.6L497.0 112.5L497.9 111.4L498.8 110.2L499.8 109.1L500.7 108.0L501.7 106.9L502.6 105.7L503.6 104.6L504.5 103.5" stroke="#ffa500" stroke-width="1.5" fill="none" stroke-dasharray="8 4.5" clip-path="url(#c3)" stroke-linejoin="round"/>
<path d="M316.0 103.0L316.9 104.3L317.9 105.6L318.8 107.0L319.8 108.3L320.7 109.7L321.6 111.0L322.6 112.3L323.5 113.7L324.5 115.0L325.4 116.3L326.4 117.6L327.3 118.9L328.2 120.2L329.2 121.4L330.1 122.7L331.1 123.9L332.0 125.1L332.9 126.2L333.9 127.3L334.8 128.4L335.8 129.5L336.7 130.5L337.6 131.5L338.6 132.5L339.5 133.5L340.5 134.5L341.4 135.4L342.4 136.3L343.3 137.3L344.2 138.2L345.2 139.1L346.1 140.0L347.1 140.9L348.0 141.8L348.9 142.7L349.9 143.6L350.8 144.4L351.8 145.3L352.7 146.2L353.6 147.0L354.6 147.9L355.5 148.7L356.5 149.5L357.4 150.3L358.4 151.1L359.3 151.9L360.2 152.6L361.2 153.4L362.1 154.1L363.1 154.8L364.0 155.6L364.9 156.3L365.9 157.0L366.8 157.6L367.8 158.3L368.7 159.0L369.6 159.6L370.6 160.3L371.5 160.9L372.5 161.5L373.4 162.1L374.4 162.7L375.3 163.4L376.2 163.9L377.2 164.5L378.1 165.1L379.1 165.7L380.0 166.2L380.9 166.8L381.9 167.3L382.8 167.8L383.8 168.3L384.7 168.8L385.6 169.3L386.6 169.8L387.5 170.3L388.5 170.8L389.4 171.2L390.4 171.6L391.3 172.1L392.2 172.5L393.2 172.8L394.1 173.2L395.1 173.6L396.0 173.9L396.9 174.3L397.9 174.6L398.8 174.9L399.8 175.1L400.7 175.4L401.6 175.7L402.6 175.9L403.5 176.1L404.5 176.3L405.4 176.5L406.4 176.6L407.3 176.8L408.2 176.9L409.2 177.0L410.1 177.1L411.1 177.2L412.0 177.2L412.9 177.3L413.9 177.3L414.8 177.3L415.8 177.3L416.7 177.3L417.7 177.2L418.6 177.2L419.5 177.1L420.5 177.0L421.4 176.8L422.4 176.7L423.3 176.6L424.2 176.4L425.2 176.2L426.1 176.0L427.1 175.8L428.0 175.5L428.9 175.2L429.9 175.0L430.8 174.7L431.8 174.3L432.7 174.0L433.7 173.7L434.6 173.3L435.5 172.9L436.5 172.5L437.4 172.1L438.4 171.7L439.3 171.2L440.2 170.7L441.2 170.2L442.1 169.7L443.1 169.2L444.0 168.7L444.9 168.1L445.9 167.5L446.8 166.9L447.8 166.3L448.7 165.6L449.7 164.9L450.6 164.2L451.5 163.4L452.5 162.6L453.4 161.8L454.4 160.9L455.3 160.0L456.2 159.1L457.2 158.2L458.1 157.2L459.1 156.3L460.0 155.3L460.9 154.3L461.9 153.2L462.8 152.2L463.8 151.2L464.7 150.1L465.7 149.1L466.6 148.0L467.5 146.9L468.5 145.8L469.4 144.7L470.4 143.6L471.3 142.5L472.2 141.4L473.2 140.3L474.1 139.2L475.1 138.0L476.0 136.9L476.9 135.8L477.9 134.6L478.8 133.4L479.8 132.3L480.7 131.1L481.7 130.0L482.6 128.8L483.5 127.6L484.5 126.5L485.4 125.3L486.4 124.1L487.3 123.0L488.2 121.8L489.2 120.6L490.1 119.4L491.1 118.3L492.0 117.1L492.9 115.9L493.9 114.8L494.8 113.6L495.8 112.4L496.7 111.2L497.7 110.1L498.6 108.9L499.5 107.7L500.5 106.5L501.4 105.4L502.4 104.2L503.3 103.0" stroke="#00e600" stroke-width="1.5" fill="none" stroke-dasharray="9 3.5 2 3.5" clip-path="url(#c3)" stroke-linejoin="round"/>
<rect x="311.9" y="111.5" width="225.1" height="74.1" fill="none" stroke="#5a5a5a" stroke-width="1"/>
<path d="M349.4 185.6v-2.3M349.4 111.5v2.3M386.9 185.6v-2.3M386.9 111.5v2.3M424.5 185.6v-2.3M424.5 111.5v2.3M462.0 185.6v-2.3M462.0 111.5v2.3M499.5 185.6v-2.3M499.5 111.5v2.3M311.9 148.6h2.3M537.0 148.6h-2.3" stroke="#5a5a5a" stroke-width="0.9" fill="none"/>
<text transform="translate(314.0 197.6)" text-anchor="middle" font-size="10" stroke="#111" stroke-width="0.15">2.7</text>
<text transform="translate(350.1 197.6)" text-anchor="middle" font-size="10" stroke="#111" stroke-width="0.15">2.72</text>
<text transform="translate(387.7 197.6)" text-anchor="middle" font-size="10" stroke="#111" stroke-width="0.15">2.74</text>
<text transform="translate(425.2 197.6)" text-anchor="middle" font-size="10" stroke="#111" stroke-width="0.15">2.76</text>
<text transform="translate(462.7 197.6)" text-anchor="middle" font-size="10" stroke="#111" stroke-width="0.15">2.78</text>
<text transform="translate(500.2 197.6)" text-anchor="middle" font-size="10" stroke="#111" stroke-width="0.15">2.8</text>
<text transform="translate(537.9 197.6)" text-anchor="middle" font-size="10" stroke="#111" stroke-width="0.15">2.82</text>
<text transform="translate(310.2 187.0)" text-anchor="end" font-size="10" stroke="#111" stroke-width="0.15">−0.8</text>
<text transform="translate(310.2 153.5)" text-anchor="end" font-size="10" stroke="#111" stroke-width="0.15">−0.76</text>
<text transform="translate(310.2 116.1)" text-anchor="end" font-size="10" stroke="#111" stroke-width="0.15">−0.72</text>
<text transform="translate(425.2 209.5) scale(0.985 1)" text-anchor="middle" font-size="10.5" stroke="#111" stroke-width="0.15">Time <tspan font-style="italic">t</tspan>/s</text>
<text transform="translate(286.6 97.0) rotate(-90) scale(0.968 1)" text-anchor="middle" font-size="10.5" stroke="#111" stroke-width="0.15">Rotation angle /rad</text>
<text transform="translate(274.6 226.2) scale(0.96 1)" text-anchor="middle" font-size="14" stroke="#111" stroke-width="0.15" font-weight="bold" fill="#000">(a)</text>
<g clip-path="url(#c4)" fill="none" stroke-width="1.5" stroke-linejoin="round">
<path d="M28.7 315.9L28.8 316.6L28.9 317.0L29.0 316.9L29.2 316.0L29.3 314.1L29.4 311.2L29.5 307.3L29.6 302.4L29.7 296.5L29.8 289.9L29.9 282.6L30.1 275.0L30.2 267.4L30.3 259.9L30.4 252.8L30.5 250.8L30.6 249.9L30.7 250.0L30.9 251.2L31.0 253.3L31.1 256.2L31.2 259.9L31.3 264.2L31.4 269.0L31.5 274.1L31.7 279.3L31.8 284.6L31.9 289.7L32.0 294.5L32.1 299.0L32.2 302.9L32.3 306.3L32.4 309.0L32.6 311.0L32.7 312.3L32.8 312.9L32.9 312.8L33.0 312.0L33.1 310.6L33.2 308.8L33.4 306.5L33.5 303.9L33.6 301.0L33.7 298.0L33.8 295.0L33.9 292.1L34.0 289.3L34.2 286.8L34.3 284.7L34.4 282.9L34.5 281.6L34.6 280.7L34.7 280.4L34.8 280.5L34.9 281.1L35.1 282.2L35.2 283.6L35.3 285.5L35.4 287.6L35.5 290.0L35.6 292.6L35.7 295.2L35.9 297.9L36.0 300.5L36.1 303.0L36.2 305.3L36.3 307.4L36.4 309.3L36.5 310.8L36.7 311.9L36.8 312.7L36.9 313.2L37.0 313.3L37.1 313.0L37.2 312.5L37.3 311.7L37.4 310.6L37.6 309.4L37.7 308.0L37.8 306.6L37.9 305.1L38.0 303.6L38.1 302.3L38.2 301.0L38.4 299.9L38.5 299.1L38.6 298.4L38.7 298.0L38.8 297.9L38.9 298.0L39.0 298.4L39.2 299.0L39.3 299.9L39.4 301.0L39.5 302.2L39.6 303.6L39.7 305.1L39.8 306.7L39.9 308.3L40.1 309.9L40.2 311.4L40.3 312.8L40.4 314.1L40.5 315.3L40.6 316.3L40.7 317.1L40.9 317.6L41.0 318.0L41.1 318.2L41.2 318.1L41.3 317.9L41.4 317.5L41.5 317.0L41.7 316.3L41.8 315.6L41.9 314.8L42.0 313.9L42.1 313.1L42.2 312.4L42.3 311.7L42.4 311.0L42.6 310.6L42.7 310.2L42.8 310.0L42.9 310.0L43.0 310.1L43.1 310.4L43.2 310.9L43.4 311.5L43.5 312.2L43.6 313.1L43.7 314.0L43.8 315.1L43.9 316.1L44.0 317.2L44.1 318.3L44.3 319.4L44.4 320.4L44.5 321.3L44.6 322.1L44.7 322.8L44.8 323.4L44.9 323.8L45.1 324.1L45.2 324.3L45.3 324.3L45.4 324.2L45.5 324.0L45.6 323.7L45.7 323.3L45.9 322.9L46.0 322.4L46.1 321.9L46.2 321.4L46.3 320.9L46.4 320.5L46.5 320.1L46.6 319.9L46.8 319.7L46.9 319.6L47.0 319.6L47.1 319.8L47.2 320.1L47.3 320.5L47.4 321.0L47.6 321.6L47.7 322.3L47.8 323.1L47.9 323.9L48.0 324.8L48.1 325.7L48.2 326.6L48.4 327.5L48.5 328.3L48.6 329.1L48.7 329.9L48.8 330.5L48.9 331.1L49.0 331.6L49.1 332.0L49.3 332.3L49.4 332.5L49.5 332.6L49.6 332.6L49.7 332.6L49.8 332.5L49.9 332.3L50.1 332.1L50.2 332.0L50.3 331.8L50.4 331.7L50.5 331.6L50.6 331.5L50.7 331.6L50.9 331.6L51.0 331.8L51.1 332.1L51.2 332.4L51.3 332.8L51.4 333.3L51.5 333.8L51.6 334.4L51.8 335.1L51.9 335.8L52.0 336.5L52.1 337.3L52.2 338.0L52.3 338.8L52.4 339.5L52.6 340.2L52.7 340.8L52.8 341.5L52.9 342.1L53.0 342.6L53.1 343.1L53.2 343.5L53.4 343.9L53.5 344.2L53.6 344.5L53.7 344.7L53.8 345.0L53.9 345.1L54.0 345.3L54.1 345.5L54.3 345.6L54.4 345.8L54.5 345.9L54.6 346.1L54.7 346.3L54.8 346.5L54.9 346.8L55.1 347.1L55.2 347.4L55.3 347.8L55.4 348.2L55.5 348.6L55.6 349.1L55.7 349.5L55.9 350.0L56.0 350.5L56.1 351.0L56.2 351.4L56.3 351.9L56.4 352.3L56.5 352.7L56.6 353.1L56.8 353.5L56.9 353.8L57.0 354.2L57.1 354.6L57.2 355.0L57.3 355.3L57.4 355.7L57.6 356.1L57.7 356.5L57.8 356.8L57.9 357.2L58.0 357.6L58.1 358.0L58.2 358.3L58.3 358.7L58.5 359.1L58.6 359.5L58.7 359.8L58.8 360.2L58.9 360.6L59.0 361.0L59.1 361.4L59.3 361.9L59.4 362.3L59.5 362.8L59.6 363.3L59.7 363.8L59.8 364.3L59.9 364.9L60.1 365.4L60.2 366.0L60.3 366.5L60.4 367.0L60.5 367.6L60.6 368.1L60.7 368.6L60.8 369.1L61.0 369.6L61.1 370.1L61.2 370.6L61.3 371.1L61.4 371.5L61.5 372.0L61.6 372.4L61.8 372.8L61.9 373.2L62.0 373.6L62.1 374.0L62.2 374.4L62.3 374.8L62.4 375.2L62.6 375.6L62.7 376.0L62.8 376.4L62.9 376.8L63.0 377.2L63.1 377.6L63.2 378.0L63.3 378.4L63.5 378.8L63.6 379.2L63.7 379.6L63.8 379.9L63.9 380.3L64.0 380.7L64.1 381.0L64.3 381.4L64.4 381.8L64.5 382.1L64.6 382.5L64.7 382.3L64.8 382.1L64.9 381.9L65.1 381.7L65.2 381.4L65.3 381.2L65.4 380.9L65.5 380.7L65.6 380.4L65.7 380.1L65.8 379.9L66.0 379.6L66.1 379.3L66.2 379.0L66.3 378.7L66.4 378.4L66.5 378.1L66.6 377.7L66.8 377.3L66.9 377.0L67.0 376.5L67.1 376.1L67.2 375.6L67.3 375.0L67.4 374.3L67.6 373.5L67.7 372.6L67.8 371.5L67.9 370.4L68.0 369.1L68.1 367.8L68.2 366.3L68.3 364.9L68.5 363.4L68.6 361.8L68.7 360.3L68.8 358.7L68.9 357.2L69.0 355.6L69.1 353.9L69.3 352.2L69.4 350.4L69.5 348.5L69.6 346.6L69.7 344.6L69.8 342.5L69.9 340.4L70.1 338.2L70.2 335.8L70.3 333.2L70.4 330.5L70.5 327.7L70.6 324.9L70.7 322.2L70.8 319.6L71.0 317.1L71.1 314.8L71.2 312.6L71.3 310.4L71.4 308.3L71.5 306.3L71.6 304.4L71.8 302.5L71.9 300.7L72.0 298.9L72.1 297.2L72.2 295.6L72.3 293.9L72.4 292.3L72.5 290.7L72.7 289.1L72.8 287.6L72.9 286.1L73.0 284.6L73.1 283.2L73.2 281.8L73.3 280.4L73.5 279.0L73.6 277.7L73.7 276.4L73.8 275.1L73.9 273.8L74.0 272.6L74.1 271.4L74.3 270.2L74.4 269.0L74.5 267.8L74.6 266.5L74.7 265.4L74.8 264.5L74.9 263.5L75.0 262.1L75.2 260.5L75.3 258.6L75.4 256.4L75.5 254.0L75.6 251.4L75.7 248.7L75.8 246.0L76.0 243.2L76.1 240.6L76.2 238.1L76.3 235.9L76.4 234.0L76.5 233.8L76.6 233.9L76.8 234.4L76.9 235.1L77.0 236.1L77.1 237.4L77.2 238.8L77.3 240.4L77.4 242.1L77.5 243.9L77.7 245.7L77.8 247.5L77.9 249.2L78.0 250.8L78.1 252.3L78.2 253.7L78.3 254.9L78.5 255.8L78.6 256.6L78.7 257.1L78.8 257.4L78.9 257.5L79.0 257.3L79.1 256.9L79.3 256.4L79.4 255.7L79.5 254.8L79.6 253.9L79.7 252.8L79.8 251.8L79.9 250.7L80.0 249.6L80.2 248.7L80.3 247.8L80.4 247.0L80.5 246.4L80.6 245.9L80.7 245.7L80.8 245.6L81.0 245.8L81.1 246.2L81.2 246.8L81.3 247.5L81.4 248.5L81.5 249.6L81.6 250.9L81.8 252.4L81.9 254.0L82.0 255.7L82.1 257.5L82.2 259.3L82.3 261.2L82.4 263.0L82.5 264.8L82.7 266.6L82.8 268.2L82.9 269.7L83.0 271.1L83.1 272.4L83.2 273.4L83.3 274.3L83.5 275.0L83.6 275.5L83.7 275.8L83.8 276.0L83.9 276.0L84.0 275.8L84.1 275.5L84.3 275.1L84.4 274.6L84.5 274.1L84.6 273.5L84.7 272.8L84.8 272.2L84.9 271.6L85.0 271.1L85.2 270.6L85.3 270.3L85.4 270.0L85.5 269.9L85.6 269.9L85.7 270.0L85.8 270.3L86.0 270.7L86.1 271.3L86.2 272.0L86.3 272.8L86.4 273.8L86.5 274.9L86.6 276.0L86.7 277.2L86.9 278.5L87.0 279.8L87.1 281.1L87.2 282.4L87.3 283.7L87.4 285.0L87.5 286.1L87.7 287.2L87.8 288.2L87.9 289.1L88.0 289.9L88.1 290.5L88.2 291.0L88.3 291.4L88.5 291.7L88.6 291.9L88.7 291.9L88.8 291.8L88.9 291.7L89.0 291.4L89.1 291.1L89.2 290.8L89.4 290.4L89.5 290.0L89.6 289.6L89.7 289.3L89.8 288.9L89.9 288.7L90.0 288.4L90.2 288.3L90.3 288.2L90.4 288.2L90.5 288.4L90.6 288.6L90.7 288.9L90.8 289.3L91.0 289.9L91.1 290.5L91.2 291.2L91.3 291.9L91.4 292.8L91.5 293.6L91.6 294.6L91.7 295.5L91.9 296.4L92.0 297.4L92.1 298.3L92.2 299.2L92.3 300.0L92.4 300.8L92.5 301.6L92.7 302.2L92.8 302.8L92.9 303.3L93.0 303.7L93.1 304.0L93.2 304.2L93.3 304.3L93.5 304.4L93.6 304.4L93.7 304.3L93.8 304.2L93.9 304.0L94.0 303.8L94.1 303.5L94.2 303.3L94.4 303.0L94.5 302.8L94.6 302.6L94.7 302.4L94.8 302.2L94.9 302.2L95.0 302.1L95.2 302.2L95.3 302.3L95.4 302.5L95.5 302.7L95.6 303.1L95.7 303.5L95.8 303.9L96.0 304.4L96.1 305.0L96.2 305.6L96.3 306.3L96.4 307.0L96.5 307.7L96.6 308.4L96.7 309.1L96.9 309.8L97.0 310.5L97.1 311.2L97.2 311.8L97.3 312.3L97.4 312.8L97.5 313.3L97.7 313.7L97.8 314.0L97.9 314.3L98.0 314.5L98.1 314.6L98.2 314.7L98.3 314.7L98.5 314.7L98.6 314.6L98.7 314.5L98.8 314.4L98.9 314.2L99.0 314.1L99.1 313.9L99.2 313.8L99.4 313.6L99.5 313.5L99.6 313.5L99.7 313.4L99.8 313.4L99.9 313.5L100.0 313.6L100.2 313.8L100.3 314.0L100.4 314.3L100.5 314.6L100.6 315.0L100.7 315.4L100.8 315.9L100.9 316.4L101.1 316.9L101.2 317.4L101.3 318.0L101.4 318.5L101.5 319.1L101.6 319.7L101.7 320.2L101.9 320.7L102.0 321.2L102.1 321.6L102.2 322.1L102.3 322.4L102.4 322.8L102.5 323.0L102.7 323.3L102.8 323.4L102.9 323.6L103.0 323.7L103.1 323.7L103.2 323.7L103.3 323.7L103.4 323.7L103.6 323.6L103.7 323.6L103.8 323.5L103.9 323.5L104.0 323.4L104.1 323.4L104.2 323.3L104.4 323.4L104.5 323.4L104.6 323.5L104.7 323.6L104.8 323.8L104.9 324.0L105.0 324.3L105.2 324.6L105.3 325.0L105.4 325.4L105.5 325.9L105.6 326.4L105.7 326.9L105.8 327.4L105.9 328.0L106.1 328.6L106.2 329.2L106.3 329.8L106.4 330.4L106.5 331.0L106.6 331.6L106.7 332.1L106.9 332.7L107.0 333.2L107.1 333.6L107.2 334.1L107.3 334.5L107.4 334.9L107.5 335.2L107.7 335.5L107.8 335.7L107.9 336.0L108.0 336.2L108.1 336.3L108.2 336.5L108.3 336.6L108.4 336.7L108.6 336.9L108.7 337.0L108.8 337.1L108.9 337.2L109.0 337.4L109.1 337.6L109.2 337.7L109.4 338.0L109.5 338.2L109.6 338.5L109.7 338.9L109.8 339.3L109.9 339.7L110.0 340.2L110.2 340.7L110.3 341.2L110.4 341.8L110.5 342.4L110.6 343.0L110.7 343.6L110.8 344.3L110.9 344.9L111.1 345.6L111.2 346.2L111.3 346.8L111.4 347.5L111.5 348.1L111.6 348.6L111.7 349.1L111.9 349.6L112.0 350.1L112.1 350.5L112.2 350.9L112.3 351.2L112.4 351.5L112.5 351.8L112.7 352.0L112.8 352.2L112.9 352.3L113.0 352.4L113.1 352.5L113.2 352.5L113.3 352.5L113.4 352.5L113.6 352.6L113.7 352.7L113.8 352.8L113.9 352.9L114.0 353.1L114.1 353.4L114.2 353.7L114.4 354.0L114.5 354.4L114.6 354.9L114.7 355.4L114.8 355.9L114.9 356.5L115.0 357.1L115.1 357.7L115.3 358.3L115.4 359.0L115.5 359.6L115.6 360.3L115.7 360.9L115.8 361.6L115.9 362.2L116.1 362.8L116.2 363.4L116.3 364.0L116.4 364.6L116.5 365.1L116.6 365.6L116.7 366.1L116.9 366.6L117.0 367.1L117.1 367.5L117.2 367.9L117.3 368.3L117.4 368.7L117.5 369.1L117.6 369.4L117.8 369.8L117.9 370.1L118.0 370.5L118.1 370.9L118.2 371.2L118.3 371.6L118.4 372.0L118.6 372.3L118.7 372.7L118.8 373.1L118.9 373.5L119.0 374.0L119.1 374.4L119.2 374.8L119.4 375.3L119.5 375.7L119.6 376.1L119.7 376.6L119.8 377.0L119.9 377.5L120.0 377.9L120.1 378.3L120.3 378.8L120.4 379.2L120.5 379.6L120.6 380.0L120.7 380.3L120.8 380.7L120.9 381.1L121.1 381.4L121.2 381.8L121.3 382.1L121.4 382.5L121.5 382.3L121.6 382.1L121.7 381.9L121.9 381.7L122.0 381.4L122.1 381.2L122.2 380.9L122.3 380.7L122.4 380.4L122.5 380.1L122.6 379.9L122.8 379.6L122.9 379.3L123.0 379.0L123.1 378.7L123.2 378.4L123.3 378.1L123.4 377.7L123.6 377.3L123.7 377.0L123.8 376.5L123.9 376.1L124.0 375.6L124.1 375.0L124.2 374.3L124.4 373.5L124.5 372.6L124.6 371.5L124.7 370.4L124.8 369.1L124.9 367.8L125.0 366.3L125.1 364.9L125.3 363.4L125.4 361.8L125.5 360.3L125.6 358.7L125.7 357.2L125.8 355.6L125.9 353.9L126.1 352.2L126.2 350.4L126.3 348.5L126.4 346.6L126.5 344.6L126.6 342.5L126.7 340.4L126.9 338.2L127.0 335.8L127.1 333.2L127.2 330.5L127.3 327.7L127.4 324.9L127.5 322.2L127.6 319.6L127.8 317.1L127.9 314.8L128.0 312.6L128.1 310.4L128.2 308.3L128.3 306.3L128.4 304.4L128.6 302.5L128.7 300.7L128.8 298.9L128.9 297.2L129.0 295.6L129.1 293.9L129.2 292.3L129.3 290.7L129.5 289.1L129.6 287.6L129.7 286.1L129.8 284.6L129.9 283.2L130.0 281.8L130.1 280.4L130.3 279.0L130.4 277.7L130.5 276.4L130.6 275.1L130.7 273.8L130.8 272.6L130.9 271.4L131.1 270.2L131.2 269.0L131.3 267.8L131.4 266.5L131.5 265.4L131.6 264.5L131.7 263.5L131.8 262.1L132.0 260.5L132.1 258.6L132.2 256.4L132.3 254.0L132.4 251.4L132.5 248.7L132.6 246.0L132.8 243.2L132.9 240.6L133.0 238.1L133.1 235.9L133.2 234.0L133.3 233.8L133.4 233.9L133.6 234.4L133.7 235.1L133.8 236.1L133.9 237.4L134.0 238.8L134.1 240.4L134.2 242.1L134.3 243.9L134.5 245.7L134.6 247.5L134.7 249.2L134.8 250.8L134.9 252.3L135.0 253.7L135.1 254.9L135.3 255.8L135.4 256.6L135.5 257.1L135.6 257.4L135.7 257.5L135.8 257.3L135.9 256.9L136.1 256.4L136.2 255.7L136.3 254.8L136.4 253.9L136.5 252.8L136.6 251.8L136.7 250.7L136.8 249.6L137.0 248.7L137.1 247.8L137.2 247.0L137.3 246.4L137.4 245.9L137.5 245.7L137.6 245.6L137.8 245.8L137.9 246.2L138.0 246.8L138.1 247.5L138.2 248.5L138.3 249.6L138.4 250.9L138.6 252.4L138.7 254.0L138.8 255.7L138.9 257.5L139.0 259.3L139.1 261.2L139.2 263.0L139.3 264.8L139.5 266.6L139.6 268.2L139.7 269.7L139.8 271.1L139.9 272.4L140.0 273.4L140.1 274.3L140.3 275.0L140.4 275.5L140.5 275.8L140.6 276.0L140.7 276.0L140.8 275.8L140.9 275.5L141.1 275.1L141.2 274.6L141.3 274.1L141.4 273.5L141.5 272.8L141.6 272.2L141.7 271.6L141.8 271.1L142.0 270.6L142.1 270.3L142.2 270.0L142.3 269.9L142.4 269.9L142.5 270.0L142.6 270.3L142.8 270.7L142.9 271.3L143.0 272.0L143.1 272.8L143.2 273.8L143.3 274.9L143.4 276.0L143.5 277.2L143.7 278.5L143.8 279.8L143.9 281.1L144.0 282.4L144.1 283.7L144.2 285.0L144.3 286.1L144.5 287.2L144.6 288.2L144.7 289.1L144.8 289.9L144.9 290.5L145.0 291.0L145.1 291.4L145.3 291.7L145.4 291.9L145.5 291.9L145.6 291.8L145.7 291.7L145.8 291.4L145.9 291.1L146.0 290.8L146.2 290.4L146.3 290.0L146.4 289.6L146.5 289.3L146.6 288.9L146.7 288.7L146.8 288.4L147.0 288.3L147.1 288.2L147.2 288.2L147.3 288.4L147.4 288.6L147.5 288.9L147.6 289.3L147.8 289.9L147.9 290.5L148.0 291.2L148.1 291.9L148.2 292.8L148.3 293.6L148.4 294.6L148.5 295.5L148.7 296.4L148.8 297.4L148.9 298.3L149.0 299.2L149.1 300.0L149.2 300.8L149.3 301.6L149.5 302.2L149.6 302.8L149.7 303.3L149.8 303.7L149.9 304.0L150.0 304.2L150.1 304.3L150.3 304.4L150.4 304.4L150.5 304.3L150.6 304.2L150.7 304.0L150.8 303.8L150.9 303.5L151.0 303.3L151.2 303.0L151.3 302.8L151.4 302.6L151.5 302.4L151.6 302.2L151.7 302.2L151.8 302.1L152.0 302.2L152.1 302.3L152.2 302.5L152.3 302.7L152.4 303.1L152.5 303.5L152.6 303.9L152.8 304.4L152.9 305.0L153.0 305.6L153.1 306.3L153.2 307.0L153.3 307.7L153.4 308.4L153.5 309.1L153.7 309.8L153.8 310.5L153.9 311.2L154.0 311.8L154.1 312.3L154.2 312.8L154.3 313.3L154.5 313.7L154.6 314.0L154.7 314.3L154.8 314.5L154.9 314.6L155.0 314.7L155.1 314.7L155.3 314.7L155.4 314.6L155.5 314.5L155.6 314.4L155.7 314.2L155.8 314.1L155.9 313.9L156.0 313.8L156.2 313.6L156.3 313.5L156.4 313.5L156.5 313.4L156.6 313.4L156.7 313.5L156.8 313.6L157.0 313.8L157.1 314.0L157.2 314.3L157.3 314.6L157.4 315.0L157.5 315.4L157.6 315.9L157.7 316.4L157.9 316.9L158.0 317.4L158.1 318.0L158.2 318.5L158.3 319.1L158.4 319.7L158.5 320.2L158.7 320.7L158.8 321.2L158.9 321.6L159.0 322.1L159.1 322.4L159.2 322.8L159.3 323.0L159.5 323.3L159.6 323.4L159.7 323.6L159.8 323.7L159.9 323.7L160.0 323.7L160.1 323.7L160.2 323.7L160.4 323.6L160.5 323.6L160.6 323.5L160.7 323.5L160.8 323.4L160.9 323.4L161.0 323.3L161.2 323.4L161.3 323.4L161.4 323.5L161.5 323.6L161.6 323.8L161.7 324.0L161.8 324.3L162.0 324.6L162.1 325.0L162.2 325.4L162.3 325.9L162.4 326.4L162.5 326.9L162.6 327.4L162.7 328.0L162.9 328.6L163.0 329.2L163.1 329.8L163.2 330.4L163.3 331.0L163.4 331.6L163.5 332.1L163.7 332.7L163.8 333.2L163.9 333.6L164.0 334.1L164.1 334.5L164.2 334.9L164.3 335.2L164.5 335.5L164.6 335.7L164.7 336.0L164.8 336.2L164.9 336.3L165.0 336.5L165.1 336.6L165.2 336.7L165.4 336.9L165.5 337.0L165.6 337.1L165.7 337.2L165.8 337.4L165.9 337.6L166.0 337.7L166.2 338.0L166.3 338.2L166.4 338.5L166.5 338.9L166.6 339.3L166.7 339.7L166.8 340.2L167.0 340.7L167.1 341.2L167.2 341.8L167.3 342.4L167.4 343.0L167.5 343.6L167.6 344.3L167.7 344.9L167.9 345.6L168.0 346.2L168.1 346.8L168.2 347.5L168.3 348.1L168.4 348.6L168.5 349.1L168.7 349.6L168.8 350.1L168.9 350.5L169.0 350.9L169.1 351.2L169.2 351.5L169.3 351.8L169.5 352.0L169.6 352.2L169.7 352.3L169.8 352.4L169.9 352.5L170.0 352.5L170.1 352.5L170.2 352.5L170.4 352.6L170.5 352.7L170.6 352.8L170.7 352.9L170.8 353.1L170.9 353.4L171.0 353.7L171.2 354.0L171.3 354.4L171.4 354.9L171.5 355.4L171.6 355.9L171.7 356.5L171.8 357.1L171.9 357.7L172.1 358.3L172.2 359.0L172.3 359.6L172.4 360.3L172.5 360.9L172.6 361.6L172.7 362.2L172.9 362.8L173.0 363.4L173.1 364.0L173.2 364.6L173.3 365.1L173.4 365.6L173.5 366.1L173.7 366.6L173.8 367.1L173.9 367.5L174.0 367.9L174.1 368.3L174.2 368.7L174.3 369.1L174.4 369.4L174.6 369.8L174.7 370.1L174.8 370.5L174.9 370.9L175.0 371.2L175.1 371.6L175.2 372.0L175.4 372.3L175.5 372.7L175.6 373.1L175.7 373.5L175.8 374.0L175.9 374.4L176.0 374.8L176.2 375.3L176.3 375.7L176.4 376.1L176.5 376.6L176.6 377.0L176.7 377.5L176.8 377.9L176.9 378.3L177.1 378.8L177.2 379.2L177.3 379.6L177.4 380.0L177.5 380.3L177.6 380.7L177.7 381.1L177.9 381.4L178.0 381.8L178.1 382.1L178.2 382.5L178.3 382.3L178.4 382.1L178.5 381.9L178.7 381.7L178.8 381.4L178.9 381.2L179.0 380.9L179.1 380.7L179.2 380.4L179.3 380.1L179.4 379.9L179.6 379.6L179.7 379.3L179.8 379.0L179.9 378.7L180.0 378.4L180.1 378.1L180.2 377.7L180.4 377.3L180.5 377.0L180.6 376.5L180.7 376.1L180.8 375.6L180.9 375.0L181.0 374.3L181.2 373.5L181.3 372.6L181.4 371.5L181.5 370.4L181.6 369.1L181.7 367.8L181.8 366.3L181.9 364.9L182.1 363.4L182.2 361.8L182.3 360.3L182.4 358.7L182.5 357.2L182.6 355.6L182.7 353.9L182.9 352.2L183.0 350.4L183.1 348.5L183.2 346.6L183.3 344.6L183.4 342.5L183.5 340.4L183.7 338.2L183.8 335.8L183.9 333.2L184.0 330.5L184.1 327.7L184.2 324.9L184.3 322.2L184.4 319.6L184.6 317.1L184.7 314.8L184.8 312.6L184.9 310.4L185.0 308.3L185.1 306.3L185.2 304.4L185.4 302.5L185.5 300.7L185.6 298.9L185.7 297.2L185.8 295.6L185.9 293.9L186.0 292.3L186.1 290.7L186.3 289.1L186.4 287.6L186.5 286.1L186.6 284.6L186.7 283.2L186.8 281.8L186.9 280.4L187.1 279.0L187.2 277.7L187.3 276.4L187.4 275.1L187.5 273.8L187.6 272.6L187.7 271.4L187.9 270.2L188.0 269.0L188.1 267.8L188.2 266.5L188.3 265.4L188.4 264.5L188.5 263.5L188.6 262.1L188.8 260.5L188.9 258.6L189.0 256.4L189.1 254.0L189.2 251.4L189.3 248.7L189.4 246.0L189.6 243.2L189.7 240.6L189.8 238.1L189.9 235.9L190.0 234.0L190.1 233.8L190.2 233.9L190.4 234.4L190.5 235.1L190.6 236.1L190.7 237.4L190.8 238.8L190.9 240.4L191.0 242.1L191.1 243.9L191.3 245.7L191.4 247.5L191.5 249.2L191.6 250.8L191.7 252.3L191.8 253.7L191.9 254.9L192.1 255.8L192.2 256.6L192.3 257.1L192.4 257.4L192.5 257.5L192.6 257.3L192.7 256.9L192.9 256.4L193.0 255.7L193.1 254.8L193.2 253.9L193.3 252.8L193.4 251.8L193.5 250.7L193.6 249.6L193.8 248.7L193.9 247.8L194.0 247.0L194.1 246.4L194.2 245.9L194.3 245.7L194.4 245.6L194.6 245.8L194.7 246.2L194.8 246.8L194.9 247.5L195.0 248.5L195.1 249.6L195.2 250.9L195.4 252.4L195.5 254.0L195.6 255.7L195.7 257.5L195.8 259.3L195.9 261.2L196.0 263.0L196.1 264.8L196.3 266.6L196.4 268.2L196.5 269.7L196.6 271.1L196.7 272.4L196.8 273.4L196.9 274.3L197.1 275.0L197.2 275.5L197.3 275.8L197.4 276.0L197.5 276.0L197.6 275.8L197.7 275.5L197.9 275.1L198.0 274.6L198.1 274.1L198.2 273.5L198.3 272.8L198.4 272.2L198.5 271.6L198.6 271.1L198.8 270.6L198.9 270.3L199.0 270.0L199.1 269.9L199.2 269.9L199.3 270.0L199.4 270.3L199.6 270.7L199.7 271.3L199.8 272.0L199.9 272.8L200.0 273.8L200.1 274.9L200.2 276.0L200.3 277.2L200.5 278.5L200.6 279.8L200.7 281.1L200.8 282.4L200.9 283.7L201.0 285.0L201.1 286.1L201.3 287.2L201.4 288.2L201.5 289.1L201.6 289.9L201.7 290.5L201.8 291.0L201.9 291.4L202.1 291.7L202.2 291.9L202.3 291.9L202.4 291.8L202.5 291.7L202.6 291.4L202.7 291.1L202.8 290.8L203.0 290.4L203.1 290.0L203.2 289.6L203.3 289.3L203.4 288.9L203.5 288.7L203.6 288.4L203.8 288.3L203.9 288.2L204.0 288.2L204.1 288.4L204.2 288.6L204.3 288.9L204.4 289.3L204.6 289.9L204.7 290.5L204.8 291.2L204.9 291.9L205.0 292.8L205.1 293.6L205.2 294.6L205.3 295.5L205.5 296.4L205.6 297.4L205.7 298.3L205.8 299.2L205.9 300.0L206.0 300.8L206.1 301.6L206.3 302.2L206.4 302.8L206.5 303.3L206.6 303.7L206.7 304.0L206.8 304.2L206.9 304.3L207.1 304.4L207.2 304.4L207.3 304.3L207.4 304.2L207.5 304.0L207.6 303.8L207.7 303.5L207.8 303.3L208.0 303.0L208.1 302.8L208.2 302.6L208.3 302.4L208.4 302.2L208.5 302.2L208.6 302.1L208.8 302.2L208.9 302.3L209.0 302.5L209.1 302.7L209.2 303.1L209.3 303.5L209.4 303.9L209.6 304.4L209.7 305.0L209.8 305.6L209.9 306.3L210.0 307.0L210.1 307.7L210.2 308.4L210.3 309.1L210.5 309.8L210.6 310.5L210.7 311.2L210.8 311.8L210.9 312.3L211.0 312.8L211.1 313.3L211.3 313.7L211.4 314.0L211.5 314.3L211.6 314.5L211.7 314.6L211.8 314.7L211.9 314.7L212.1 314.7L212.2 314.6L212.3 314.5L212.4 314.4L212.5 314.2L212.6 314.1L212.7 313.9L212.8 313.8L213.0 313.6L213.1 313.5L213.2 313.5L213.3 313.4L213.4 313.4L213.5 313.5L213.6 313.6L213.8 313.8L213.9 314.0L214.0 314.3L214.1 314.6L214.2 315.0L214.3 315.4L214.4 315.9L214.5 316.4L214.7 316.9L214.8 317.4L214.9 318.0L215.0 318.5L215.1 319.1L215.2 319.7L215.3 320.2L215.5 320.7L215.6 321.2L215.7 321.6L215.8 322.1L215.9 322.4L216.0 322.8L216.1 323.0L216.3 323.3L216.4 323.4L216.5 323.6L216.6 323.7L216.7 323.7L216.8 323.7L216.9 323.7L217.0 323.7L217.2 323.6L217.3 323.6L217.4 323.5L217.5 323.5L217.6 323.4L217.7 323.4L217.8 323.3L218.0 323.4L218.1 323.4L218.2 323.5L218.3 323.6L218.4 323.8L218.5 324.0L218.6 324.3L218.8 324.6L218.9 325.0L219.0 325.4L219.1 325.9L219.2 326.4L219.3 326.9L219.4 327.4L219.5 328.0L219.7 328.6L219.8 329.2L219.9 329.8L220.0 330.4L220.1 331.0L220.2 331.6L220.3 332.1L220.5 332.7L220.6 333.2L220.7 333.6L220.8 334.1L220.9 334.5L221.0 334.9L221.1 335.2L221.3 335.5L221.4 335.7L221.5 336.0L221.6 336.2L221.7 336.3L221.8 336.5L221.9 336.6L222.0 336.7L222.2 336.9L222.3 337.0L222.4 337.1L222.5 337.2L222.6 337.4L222.7 337.6L222.8 337.7L223.0 338.0L223.1 338.2L223.2 338.5L223.3 338.9L223.4 339.3L223.5 339.7L223.6 340.2L223.8 340.7L223.9 341.2L224.0 341.8L224.1 342.4L224.2 343.0L224.3 343.6L224.4 344.3L224.5 344.9L224.7 345.6L224.8 346.2L224.9 346.8L225.0 347.5L225.1 348.1L225.2 348.6L225.3 349.1L225.5 349.6L225.6 350.1L225.7 350.5L225.8 350.9L225.9 351.2L226.0 351.5L226.1 351.8L226.3 352.0L226.4 352.2L226.5 352.3L226.6 352.4L226.7 352.5L226.8 352.5L226.9 352.5L227.0 352.5L227.2 352.6L227.3 352.7L227.4 352.8L227.5 352.9L227.6 353.1L227.7 353.4L227.8 353.7L228.0 354.0L228.1 354.4L228.2 354.9L228.3 355.4L228.4 355.9L228.5 356.5L228.6 357.1L228.7 357.7L228.9 358.3L229.0 359.0L229.1 359.6L229.2 360.3L229.3 360.9L229.4 361.6L229.5 362.2L229.7 362.8L229.8 363.4L229.9 364.0L230.0 364.6L230.1 365.1L230.2 365.6L230.3 366.1L230.5 366.6L230.6 367.1L230.7 367.5L230.8 367.9L230.9 368.3L231.0 368.7L231.1 369.1L231.2 369.4L231.4 369.8L231.5 370.1L231.6 370.5L231.7 370.9L231.8 371.2L231.9 371.6L232.0 372.0L232.2 372.3L232.3 372.7L232.4 373.1L232.5 373.5L232.6 374.0L232.7 374.4L232.8 374.8L233.0 375.3L233.1 375.7L233.2 376.1L233.3 376.6L233.4 377.0L233.5 377.5L233.6 377.9L233.7 378.3L233.9 378.8L234.0 379.2L234.1 379.6L234.2 380.0L234.3 380.3L234.4 380.7L234.5 381.1L234.7 381.4L234.8 381.8L234.9 382.1L235.0 382.5L235.1 382.3L235.2 382.1L235.3 381.9L235.5 381.7L235.6 381.4L235.7 381.2L235.8 380.9L235.9 380.7L236.0 380.4L236.1 380.1L236.2 379.9L236.4 379.6L236.5 379.3L236.6 379.0L236.7 378.7L236.8 378.4L236.9 378.1L237.0 377.7L237.2 377.3L237.3 377.0L237.4 376.5L237.5 376.1L237.6 375.6L237.7 375.0L237.8 374.3L238.0 373.5L238.1 372.6L238.2 371.5L238.3 370.4L238.4 369.1L238.5 367.8L238.6 366.3L238.7 364.9L238.9 363.4L239.0 361.8L239.1 360.3L239.2 358.7L239.3 357.2L239.4 355.6L239.5 353.9L239.7 352.2L239.8 350.4L239.9 348.5L240.0 346.6L240.1 344.6L240.2 342.5L240.3 340.4L240.5 338.2L240.6 335.8L240.7 333.2L240.8 330.5L240.9 327.7L241.0 324.9L241.1 322.2L241.2 319.6L241.4 317.1L241.5 314.8L241.6 312.6L241.7 310.4L241.8 308.3L241.9 306.3L242.0 304.4L242.2 302.5L242.3 300.7L242.4 298.9L242.5 297.2L242.6 295.6L242.7 293.9L242.8 292.3L242.9 290.7L243.1 289.1L243.2 287.6L243.3 286.1L243.4 284.6L243.5 283.2L243.6 281.8L243.7 280.4L243.9 279.0L244.0 277.7L244.1 276.4L244.2 275.1L244.3 273.8L244.4 272.6L244.5 271.4L244.7 270.2L244.8 269.0L244.9 267.8L245.0 266.5L245.1 265.4L245.2 264.5L245.3 263.5L245.4 262.1L245.6 260.5L245.7 258.6L245.8 256.4L245.9 254.0L246.0 251.4L246.1 248.7L246.2 246.0L246.4 243.2L246.5 240.6L246.6 238.1L246.7 235.9L246.8 234.0L246.9 233.8L247.0 233.9L247.2 234.4L247.3 235.1L247.4 236.1L247.5 237.4L247.6 238.8L247.7 240.4L247.8 242.1L247.9 243.9L248.1 245.7L248.2 247.5L248.3 249.2L248.4 250.8L248.5 252.3L248.6 253.7L248.7 254.9L248.9 255.8L249.0 256.6L249.1 257.1L249.2 257.4L249.3 257.5L249.4 257.3L249.5 256.9L249.7 256.4L249.8 255.7L249.9 254.8L250.0 253.9L250.1 252.8L250.2 251.8L250.3 250.7L250.4 249.6L250.6 248.7L250.7 247.8L250.8 247.0L250.9 246.4L251.0 245.9L251.1 245.7L251.2 245.6L251.4 245.8L251.5 246.2L251.6 246.8L251.7 247.5L251.8 248.5L251.9 249.6L252.0 250.9L252.2 252.4L252.3 254.0L252.4 255.7L252.5 257.5L252.6 259.3L252.7 261.2L252.8 263.0L252.9 264.8L253.1 266.6L253.2 268.2L253.3 269.7L253.4 271.1L253.5 272.4L253.6 273.4L253.7 274.3L253.9 275.0L254.0 275.5L254.1 275.8L254.2 276.0L254.3 276.0L254.4 275.8L254.5 275.5L254.7 275.1L254.8 274.6L254.9 274.1L255.0 273.5L255.1 272.8L255.2 272.2L255.3 271.6L255.4 271.1L255.6 270.6L255.7 270.3L255.8 270.0L255.9 269.9" stroke="#0000ff"/>
<path d="M28.7 315.9L28.8 315.9L28.9 315.8L29.0 315.2L29.2 314.2L29.3 312.4L29.4 309.7L29.5 306.2L29.6 301.7L29.7 296.3L29.8 290.1L29.9 283.2L30.1 275.8L30.2 268.1L30.3 260.5L30.4 253.1L30.5 250.6L30.6 249.1L30.7 248.7L30.9 249.3L31.0 251.0L31.1 253.6L31.2 257.2L31.3 261.5L31.4 266.6L31.5 272.1L31.7 278.0L31.8 284.1L31.9 290.2L32.0 296.1L32.1 301.7L32.2 306.9L32.3 311.4L32.4 315.1L32.6 318.1L32.7 320.1L32.8 321.2L32.9 321.3L33.0 320.6L33.1 318.9L33.2 316.4L33.4 313.2L33.5 309.5L33.6 305.2L33.7 300.6L33.8 295.9L33.9 291.2L34.0 286.6L34.2 282.2L34.3 278.4L34.4 275.0L34.5 272.3L34.6 270.4L34.7 269.2L34.8 268.9L34.9 269.4L35.1 270.7L35.2 272.8L35.3 275.6L35.4 279.0L35.5 283.0L35.6 287.4L35.7 292.0L35.9 296.8L36.0 301.6L36.1 306.3L36.2 310.7L36.3 314.7L36.4 318.3L36.5 321.2L36.7 323.5L36.8 325.2L36.9 326.0L37.0 326.1L37.1 325.5L37.2 324.2L37.3 322.3L37.4 319.8L37.6 316.8L37.7 313.5L37.8 309.9L37.9 306.2L38.0 302.5L38.1 298.9L38.2 295.5L38.4 292.5L38.5 289.8L38.6 287.7L38.7 286.2L38.8 285.3L38.9 285.1L39.0 285.5L39.2 286.5L39.3 288.2L39.4 290.4L39.5 293.1L39.6 296.3L39.7 299.7L39.8 303.4L39.9 307.2L40.1 311.0L40.2 314.7L40.3 318.2L40.4 321.4L40.5 324.2L40.6 326.5L40.7 328.4L40.9 329.7L41.0 330.4L41.1 330.5L41.2 330.0L41.3 329.0L41.4 327.5L41.5 325.6L41.7 323.3L41.8 320.7L41.9 317.9L42.0 315.0L42.1 312.1L42.2 309.3L42.3 306.6L42.4 304.3L42.6 302.2L42.7 300.6L42.8 299.4L42.9 298.8L43.0 298.6L43.1 299.0L43.2 299.8L43.4 301.2L43.5 302.9L43.6 305.1L43.7 307.6L43.8 310.3L43.9 313.3L44.0 316.3L44.1 319.3L44.3 322.2L44.4 325.0L44.5 327.5L44.6 329.7L44.7 331.6L44.8 333.1L44.9 334.1L45.1 334.7L45.2 334.8L45.3 334.4L45.4 333.7L45.5 332.5L45.6 331.0L45.7 329.2L45.9 327.2L46.0 325.0L46.1 322.8L46.2 320.5L46.3 318.4L46.4 316.3L46.5 314.5L46.6 312.9L46.8 311.7L46.9 310.8L47.0 310.3L47.1 310.3L47.2 310.6L47.3 311.3L47.4 312.5L47.6 313.9L47.7 315.7L47.8 317.8L47.9 320.0L48.0 322.4L48.1 324.9L48.2 327.4L48.4 329.8L48.5 332.1L48.6 334.2L48.7 336.1L48.8 337.7L48.9 339.0L49.0 339.9L49.1 340.5L49.3 340.8L49.4 340.7L49.5 340.2L49.6 339.5L49.7 338.5L49.8 337.2L49.9 335.7L50.1 334.2L50.2 332.7L50.3 331.1L50.4 329.7L50.5 328.4L50.6 327.3L50.7 326.4L50.9 325.7L51.0 325.4L51.1 325.3L51.2 325.5L51.3 326.0L51.4 326.8L51.5 327.8L51.6 329.1L51.8 330.6L51.9 332.2L52.0 333.9L52.1 335.7L52.2 337.5L52.3 339.3L52.4 341.0L52.6 342.6L52.7 344.1L52.8 345.4L52.9 346.5L53.0 347.4L53.1 348.2L53.2 348.7L53.4 348.9L53.5 349.0L53.6 349.0L53.7 348.7L53.8 348.3L53.9 347.8L54.0 347.2L54.1 346.6L54.3 346.0L54.4 345.4L54.5 344.8L54.6 344.3L54.7 344.0L54.8 343.7L54.9 343.6L55.1 343.6L55.2 343.8L55.3 344.1L55.4 344.6L55.5 345.2L55.6 345.9L55.7 346.7L55.9 347.6L56.0 348.6L56.1 349.6L56.2 350.6L56.3 351.6L56.4 352.5L56.5 353.5L56.6 354.3L56.8 355.1L56.9 355.8L57.0 356.4L57.1 357.0L57.2 357.5L57.3 357.9L57.4 358.2L57.6 358.4L57.7 358.6L57.8 358.7L57.9 358.8L58.0 358.8L58.1 358.9L58.2 358.9L58.3 358.9L58.5 358.9L58.6 359.0L58.7 359.0L58.8 359.2L58.9 359.3L59.0 359.6L59.1 359.9L59.3 360.3L59.4 360.8L59.5 361.3L59.6 361.9L59.7 362.5L59.8 363.2L59.9 364.0L60.1 364.7L60.2 365.4L60.3 366.2L60.4 367.0L60.5 367.7L60.6 368.4L60.7 369.1L60.8 369.7L61.0 370.3L61.1 370.9L61.2 371.4L61.3 371.8L61.4 372.3L61.5 372.7L61.6 373.0L61.8 373.4L61.9 373.7L62.0 374.0L62.1 374.3L62.2 374.6L62.3 375.0L62.4 375.3L62.6 375.6L62.7 375.9L62.8 376.3L62.9 376.6L63.0 377.0L63.1 377.4L63.2 377.8L63.3 378.2L63.5 378.7L63.6 379.1L63.7 379.5L63.8 379.9L63.9 380.3L64.0 380.7L64.1 381.0L64.3 381.4L64.4 381.8L64.5 382.1L64.6 382.5L64.7 382.3L64.8 382.1L64.9 381.9L65.1 381.7L65.2 381.4L65.3 381.2L65.4 380.9L65.5 380.7L65.6 380.4L65.7 380.1L65.8 379.9L66.0 379.6L66.1 379.3L66.2 379.0L66.3 378.7L66.4 378.4L66.5 378.1L66.6 377.7L66.8 377.3L66.9 377.0L67.0 376.5L67.1 376.1L67.2 375.6L67.3 375.0L67.4 374.3L67.6 373.5L67.7 372.6L67.8 371.5L67.9 370.4L68.0 369.1L68.1 367.8L68.2 366.3L68.3 364.9L68.5 363.4L68.6 361.8L68.7 360.3L68.8 358.7L68.9 357.2L69.0 355.6L69.1 353.9L69.3 352.2L69.4 350.4L69.5 348.5L69.6 346.6L69.7 344.6L69.8 342.5L69.9 340.4L70.1 338.2L70.2 335.8L70.3 333.2L70.4 330.5L70.5 327.7L70.6 324.9L70.7 322.2L70.8 319.6L71.0 317.1L71.1 314.8L71.2 312.6L71.3 310.4L71.4 308.3L71.5 306.3L71.6 304.4L71.8 302.5L71.9 300.7L72.0 298.9L72.1 297.2L72.2 295.6L72.3 293.9L72.4 292.3L72.5 290.7L72.7 289.1L72.8 287.6L72.9 286.1L73.0 284.6L73.1 283.2L73.2 281.8L73.3 280.4L73.5 279.0L73.6 277.7L73.7 276.4L73.8 275.1L73.9 273.8L74.0 272.6L74.1 271.4L74.3 270.2L74.4 269.0L74.5 267.8L74.6 266.5L74.7 265.4L74.8 264.2L74.9 263.0L75.0 261.9L75.2 260.8L75.3 259.8L75.4 258.8L75.5 257.8L75.6 256.9L75.7 256.0L75.8 255.2L76.0 254.4L76.1 253.8L76.2 253.1L76.3 252.6L76.4 252.0L76.5 251.4L76.6 250.8L76.8 250.2L76.9 249.7L77.0 249.2L77.1 248.7L77.2 248.2L77.3 247.7L77.4 247.3L77.5 247.0L77.7 246.6L77.8 246.4L77.9 246.1L78.0 246.0L78.1 245.9L78.2 245.8L78.3 245.9L78.5 246.0L78.6 246.1L78.7 246.3L78.8 246.6L78.9 246.9L79.0 247.2L79.1 247.6L79.3 248.0L79.4 248.5L79.5 249.0L79.6 249.5L79.7 250.0L79.8 250.6L79.9 251.2L80.0 251.7L80.2 252.4L80.3 253.0L80.4 253.6L80.5 254.2L80.6 254.8L80.7 255.5L80.8 256.1L81.0 256.7L81.1 257.2L81.2 257.8L81.3 258.4L81.4 258.9L81.5 259.4L81.6 259.9L81.8 260.3L81.9 260.8L82.0 261.3L82.1 261.8L82.2 262.2L82.3 262.7L82.4 263.2L82.5 263.7L82.7 264.2L82.8 264.7L82.9 265.1L83.0 265.6L83.1 266.1L83.2 266.6L83.3 267.1L83.5 267.6L83.6 268.1L83.7 268.6L83.8 269.0L83.9 269.5L84.0 270.0L84.1 270.5L84.3 271.0L84.4 271.4L84.5 271.9L84.6 272.4L84.7 272.9L84.8 273.3L84.9 273.8L85.0 274.3L85.2 274.7L85.3 275.2L85.4 275.6L85.5 276.1L85.6 276.5L85.7 277.0L85.8 277.4L86.0 277.8L86.1 278.3L86.2 278.7L86.3 279.1L86.4 279.5L86.5 279.9L86.6 280.3L86.7 280.7L86.9 281.2L87.0 281.6L87.1 282.0L87.2 282.4L87.3 282.8L87.4 283.1L87.5 283.5L87.7 283.9L87.8 284.3L87.9 284.7L88.0 285.1L88.1 285.5L88.2 285.9L88.3 286.2L88.5 286.6L88.6 287.0L88.7 287.4L88.8 287.7L88.9 288.1L89.0 288.5L89.1 288.8L89.2 289.2L89.4 289.5L89.5 289.9L89.6 290.3L89.7 290.6L89.8 291.0L89.9 291.3L90.0 291.7L90.2 292.0L90.3 292.3L90.4 292.7L90.5 293.0L90.6 293.4L90.7 293.7L90.8 294.0L91.0 294.4L91.1 294.7L91.2 295.0L91.3 295.3L91.4 295.7L91.5 296.0L91.6 296.3L91.7 296.6L91.9 296.9L92.0 297.2L92.1 297.5L92.2 297.8L92.3 298.2L92.4 298.5L92.5 298.8L92.7 299.1L92.8 299.4L92.9 299.7L93.0 300.0L93.1 300.2L93.2 300.5L93.3 300.8L93.5 301.1L93.6 301.4L93.7 301.7L93.8 302.0L93.9 302.3L94.0 302.5L94.1 302.8L94.2 303.1L94.4 303.4L94.5 303.7L94.6 303.9L94.7 304.2L94.8 304.5L94.9 304.8L95.0 305.0L95.2 305.3L95.3 305.6L95.4 305.8L95.5 306.1L95.6 306.4L95.7 306.6L95.8 306.9L96.0 307.2L96.1 307.4L96.2 307.7L96.3 308.0L96.4 308.2L96.5 308.5L96.6 308.7L96.7 309.0L96.9 309.2L97.0 309.5L97.1 309.7L97.2 310.0L97.3 310.2L97.4 310.5L97.5 310.7L97.7 311.0L97.8 311.2L97.9 311.5L98.0 311.7L98.1 312.0L98.2 312.2L98.3 312.4L98.5 312.7L98.6 312.9L98.7 313.2L98.8 313.4L98.9 313.7L99.0 313.9L99.1 314.1L99.2 314.4L99.4 314.6L99.5 314.9L99.6 315.1L99.7 315.3L99.8 315.6L99.9 315.8L100.0 316.1L100.2 316.3L100.3 316.5L100.4 316.8L100.5 317.0L100.6 317.2L100.7 317.4L100.8 317.7L100.9 317.9L101.1 318.1L101.2 318.3L101.3 318.5L101.4 318.7L101.5 319.0L101.6 319.2L101.7 319.4L101.9 319.6L102.0 319.8L102.1 320.0L102.2 320.2L102.3 320.5L102.4 320.7L102.5 320.9L102.7 321.1L102.8 321.3L102.9 321.5L103.0 321.8L103.1 322.0L103.2 322.2L103.3 322.4L103.4 322.7L103.6 322.9L103.7 323.1L103.8 323.4L103.9 323.6L104.0 323.9L104.1 324.1L104.2 324.4L104.4 324.6L104.5 324.9L104.6 325.2L104.7 325.4L104.8 325.7L104.9 326.0L105.0 326.3L105.2 326.6L105.3 326.9L105.4 327.2L105.5 327.5L105.6 327.8L105.7 328.1L105.8 328.4L105.9 328.7L106.1 329.0L106.2 329.4L106.3 329.7L106.4 330.0L106.5 330.4L106.6 330.7L106.7 331.0L106.9 331.4L107.0 331.7L107.1 332.1L107.2 332.4L107.3 332.8L107.4 333.1L107.5 333.5L107.7 333.8L107.8 334.2L107.9 334.6L108.0 334.9L108.1 335.3L108.2 335.6L108.3 336.0L108.4 336.4L108.6 336.7L108.7 337.1L108.8 337.5L108.9 337.8L109.0 338.2L109.1 338.6L109.2 338.9L109.4 339.3L109.5 339.7L109.6 340.1L109.7 340.4L109.8 340.8L109.9 341.2L110.0 341.6L110.2 342.1L110.3 342.5L110.4 342.9L110.5 343.3L110.6 343.8L110.7 344.2L110.8 344.6L110.9 345.0L111.1 345.5L111.2 345.9L111.3 346.3L111.4 346.7L111.5 347.1L111.6 347.5L111.7 347.9L111.9 348.3L112.0 348.7L112.1 349.1L112.2 349.5L112.3 349.8L112.4 350.2L112.5 350.5L112.7 350.8L112.8 351.1L112.9 351.4L113.0 351.7L113.1 352.0L113.2 352.2L113.3 352.4L113.4 352.7L113.6 352.9L113.7 353.2L113.8 353.4L113.9 353.7L114.0 354.1L114.1 354.5L114.2 354.9L114.4 355.3L114.5 355.7L114.6 356.2L114.7 356.7L114.8 357.2L114.9 357.6L115.0 358.1L115.1 358.6L115.3 359.1L115.4 359.6L115.5 360.1L115.6 360.6L115.7 361.0L115.8 361.5L115.9 361.9L116.1 362.4L116.2 362.9L116.3 363.3L116.4 363.8L116.5 364.3L116.6 364.7L116.7 365.2L116.9 365.7L117.0 366.1L117.1 366.6L117.2 367.1L117.3 367.6L117.4 368.0L117.5 368.5L117.6 369.0L117.8 369.4L117.9 369.9L118.0 370.3L118.1 370.8L118.2 371.3L118.3 371.7L118.4 372.2L118.6 372.6L118.7 373.1L118.8 373.5L118.9 373.9L119.0 374.4L119.1 374.8L119.2 375.2L119.4 375.6L119.5 376.1L119.6 376.5L119.7 376.9L119.8 377.3L119.9 377.7L120.0 378.1L120.1 378.4L120.3 378.8L120.4 379.2L120.5 379.6L120.6 379.9L120.7 380.3L120.8 380.7L120.9 381.0L121.1 381.4L121.2 381.8L121.3 382.1L121.4 382.5L121.5 382.3L121.6 382.1L121.7 381.9L121.9 381.7L122.0 381.4L122.1 381.2L122.2 380.9L122.3 380.7L122.4 380.4L122.5 380.1L122.6 379.9L122.8 379.6L122.9 379.3L123.0 379.0L123.1 378.7L123.2 378.4L123.3 378.1L123.4 377.7L123.6 377.3L123.7 377.0L123.8 376.5L123.9 376.1L124.0 375.6L124.1 375.0L124.2 374.3L124.4 373.5L124.5 372.6L124.6 371.5L124.7 370.4L124.8 369.1L124.9 367.8L125.0 366.3L125.1 364.9L125.3 363.4L125.4 361.8L125.5 360.3L125.6 358.7L125.7 357.2L125.8 355.6L125.9 353.9L126.1 352.2L126.2 350.4L126.3 348.5L126.4 346.6L126.5 344.6L126.6 342.5L126.7 340.4L126.9 338.2L127.0 335.8L127.1 333.2L127.2 330.5L127.3 327.7L127.4 324.9L127.5 322.2L127.6 319.6L127.8 317.1L127.9 314.8L128.0 312.6L128.1 310.4L128.2 308.3L128.3 306.3L128.4 304.4L128.6 302.5L128.7 300.7L128.8 298.9L128.9 297.2L129.0 295.6L129.1 293.9L129.2 292.3L129.3 290.7L129.5 289.1L129.6 287.6L129.7 286.1L129.8 284.6L129.9 283.2L130.0 281.8L130.1 280.4L130.3 279.0L130.4 277.7L130.5 276.4L130.6 275.1L130.7 273.8L130.8 272.6L130.9 271.4L131.1 270.2L131.2 269.0L131.3 267.8L131.4 266.5L131.5 265.4L131.6 264.2L131.7 263.0L131.8 261.9L132.0 260.8L132.1 259.8L132.2 258.8L132.3 257.8L132.4 256.9L132.5 256.0L132.6 255.2L132.8 254.4L132.9 253.8L133.0 253.1L133.1 252.6L133.2 252.0L133.3 251.4L133.4 250.8L133.6 250.2L133.7 249.7L133.8 249.2L133.9 248.7L134.0 248.2L134.1 247.7L134.2 247.3L134.3 247.0L134.5 246.6L134.6 246.4L134.7 246.1L134.8 246.0L134.9 245.9L135.0 245.8L135.1 245.9L135.3 246.0L135.4 246.1L135.5 246.3L135.6 246.6L135.7 246.9L135.8 247.2L135.9 247.6L136.1 248.0L136.2 248.5L136.3 249.0L136.4 249.5L136.5 250.0L136.6 250.6L136.7 251.2L136.8 251.7L137.0 252.4L137.1 253.0L137.2 253.6L137.3 254.2L137.4 254.8L137.5 255.5L137.6 256.1L137.8 256.7L137.9 257.2L138.0 257.8L138.1 258.4L138.2 258.9L138.3 259.4L138.4 259.9L138.6 260.3L138.7 260.8L138.8 261.3L138.9 261.8L139.0 262.2L139.1 262.7L139.2 263.2L139.3 263.7L139.5 264.2L139.6 264.7L139.7 265.1L139.8 265.6L139.9 266.1L140.0 266.6L140.1 267.1L140.3 267.6L140.4 268.1L140.5 268.6L140.6 269.0L140.7 269.5L140.8 270.0L140.9 270.5L141.1 271.0L141.2 271.4L141.3 271.9L141.4 272.4L141.5 272.9L141.6 273.3L141.7 273.8L141.8 274.3L142.0 274.7L142.1 275.2L142.2 275.6L142.3 276.1L142.4 276.5L142.5 277.0L142.6 277.4L142.8 277.8L142.9 278.3L143.0 278.7L143.1 279.1L143.2 279.5L143.3 279.9L143.4 280.3L143.5 280.7L143.7 281.2L143.8 281.6L143.9 282.0L144.0 282.4L144.1 282.8L144.2 283.1L144.3 283.5L144.5 283.9L144.6 284.3L144.7 284.7L144.8 285.1L144.9 285.5L145.0 285.9L145.1 286.2L145.3 286.6L145.4 287.0L145.5 287.4L145.6 287.7L145.7 288.1L145.8 288.5L145.9 288.8L146.0 289.2L146.2 289.5L146.3 289.9L146.4 290.3L146.5 290.6L146.6 291.0L146.7 291.3L146.8 291.7L147.0 292.0L147.1 292.3L147.2 292.7L147.3 293.0L147.4 293.4L147.5 293.7L147.6 294.0L147.8 294.4L147.9 294.7L148.0 295.0L148.1 295.3L148.2 295.7L148.3 296.0L148.4 296.3L148.5 296.6L148.7 296.9L148.8 297.2L148.9 297.5L149.0 297.8L149.1 298.2L149.2 298.5L149.3 298.8L149.5 299.1L149.6 299.4L149.7 299.7L149.8 300.0L149.9 300.2L150.0 300.5L150.1 300.8L150.3 301.1L150.4 301.4L150.5 301.7L150.6 302.0L150.7 302.3L150.8 302.5L150.9 302.8L151.0 303.1L151.2 303.4L151.3 303.7L151.4 303.9L151.5 304.2L151.6 304.5L151.7 304.8L151.8 305.0L152.0 305.3L152.1 305.6L152.2 305.8L152.3 306.1L152.4 306.4L152.5 306.6L152.6 306.9L152.8 307.2L152.9 307.4L153.0 307.7L153.1 308.0L153.2 308.2L153.3 308.5L153.4 308.7L153.5 309.0L153.7 309.2L153.8 309.5L153.9 309.7L154.0 310.0L154.1 310.2L154.2 310.5L154.3 310.7L154.5 311.0L154.6 311.2L154.7 311.5L154.8 311.7L154.9 312.0L155.0 312.2L155.1 312.4L155.3 312.7L155.4 312.9L155.5 313.2L155.6 313.4L155.7 313.7L155.8 313.9L155.9 314.1L156.0 314.4L156.2 314.6L156.3 314.9L156.4 315.1L156.5 315.3L156.6 315.6L156.7 315.8L156.8 316.1L157.0 316.3L157.1 316.5L157.2 316.8L157.3 317.0L157.4 317.2L157.5 317.4L157.6 317.7L157.7 317.9L157.9 318.1L158.0 318.3L158.1 318.5L158.2 318.7L158.3 319.0L158.4 319.2L158.5 319.4L158.7 319.6L158.8 319.8L158.9 320.0L159.0 320.2L159.1 320.5L159.2 320.7L159.3 320.9L159.5 321.1L159.6 321.3L159.7 321.5L159.8 321.8L159.9 322.0L160.0 322.2L160.1 322.4L160.2 322.7L160.4 322.9L160.5 323.1L160.6 323.4L160.7 323.6L160.8 323.9L160.9 324.1L161.0 324.4L161.2 324.6L161.3 324.9L161.4 325.2L161.5 325.4L161.6 325.7L161.7 326.0L161.8 326.3L162.0 326.6L162.1 326.9L162.2 327.2L162.3 327.5L162.4 327.8L162.5 328.1L162.6 328.4L162.7 328.7L162.9 329.0L163.0 329.4L163.1 329.7L163.2 330.0L163.3 330.4L163.4 330.7L163.5 331.0L163.7 331.4L163.8 331.7L163.9 332.1L164.0 332.4L164.1 332.8L164.2 333.1L164.3 333.5L164.5 333.8L164.6 334.2L164.7 334.6L164.8 334.9L164.9 335.3L165.0 335.6L165.1 336.0L165.2 336.4L165.4 336.7L165.5 337.1L165.6 337.5L165.7 337.8L165.8 338.2L165.9 338.6L166.0 338.9L166.2 339.3L166.3 339.7L166.4 340.1L166.5 340.4L166.6 340.8L166.7 341.2L166.8 341.6L167.0 342.1L167.1 342.5L167.2 342.9L167.3 343.3L167.4 343.8L167.5 344.2L167.6 344.6L167.7 345.0L167.9 345.5L168.0 345.9L168.1 346.3L168.2 346.7L168.3 347.1L168.4 347.5L168.5 347.9L168.7 348.3L168.8 348.7L168.9 349.1L169.0 349.5L169.1 349.8L169.2 350.2L169.3 350.5L169.5 350.8L169.6 351.1L169.7 351.4L169.8 351.7L169.9 352.0L170.0 352.2L170.1 352.4L170.2 352.7L170.4 352.9L170.5 353.2L170.6 353.4L170.7 353.7L170.8 354.1L170.9 354.5L171.0 354.9L171.2 355.3L171.3 355.7L171.4 356.2L171.5 356.7L171.6 357.2L171.7 357.6L171.8 358.1L171.9 358.6L172.1 359.1L172.2 359.6L172.3 360.1L172.4 360.6L172.5 361.0L172.6 361.5L172.7 361.9L172.9 362.4L173.0 362.9L173.1 363.3L173.2 363.8L173.3 364.3L173.4 364.7L173.5 365.2L173.7 365.7L173.8 366.1L173.9 366.6L174.0 367.1L174.1 367.6L174.2 368.0L174.3 368.5L174.4 369.0L174.6 369.4L174.7 369.9L174.8 370.3L174.9 370.8L175.0 371.3L175.1 371.7L175.2 372.2L175.4 372.6L175.5 373.1L175.6 373.5L175.7 373.9L175.8 374.4L175.9 374.8L176.0 375.2L176.2 375.6L176.3 376.1L176.4 376.5L176.5 376.9L176.6 377.3L176.7 377.7L176.8 378.1L176.9 378.4L177.1 378.8L177.2 379.2L177.3 379.6L177.4 379.9L177.5 380.3L177.6 380.7L177.7 381.0L177.9 381.4L178.0 381.8L178.1 382.1L178.2 382.5L178.3 382.3L178.4 382.1L178.5 381.9L178.7 381.7L178.8 381.4L178.9 381.2L179.0 380.9L179.1 380.7L179.2 380.4L179.3 380.1L179.4 379.9L179.6 379.6L179.7 379.3L179.8 379.0L179.9 378.7L180.0 378.4L180.1 378.1L180.2 377.7L180.4 377.3L180.5 377.0L180.6 376.5L180.7 376.1L180.8 375.6L180.9 375.0L181.0 374.3L181.2 373.5L181.3 372.6L181.4 371.5L181.5 370.4L181.6 369.1L181.7 367.8L181.8 366.3L181.9 364.9L182.1 363.4L182.2 361.8L182.3 360.3L182.4 358.7L182.5 357.2L182.6 355.6L182.7 353.9L182.9 352.2L183.0 350.4L183.1 348.5L183.2 346.6L183.3 344.6L183.4 342.5L183.5 340.4L183.7 338.2L183.8 335.8L183.9 333.2L184.0 330.5L184.1 327.7L184.2 324.9L184.3 322.2L184.4 319.6L184.6 317.1L184.7 314.8L184.8 312.6L184.9 310.4L185.0 308.3L185.1 306.3L185.2 304.4L185.4 302.5L185.5 300.7L185.6 298.9L185.7 297.2L185.8 295.6L185.9 293.9L186.0 292.3L186.1 290.7L186.3 289.1L186.4 287.6L186.5 286.1L186.6 284.6L186.7 283.2L186.8 281.8L186.9 280.4L187.1 279.0L187.2 277.7L187.3 276.4L187.4 275.1L187.5 273.8L187.6 272.6L187.7 271.4L187.9 270.2L188.0 269.0L188.1 267.8L188.2 266.5L188.3 265.4L188.4 264.2L188.5 263.0L188.6 261.9L188.8 260.8L188.9 259.8L189.0 258.8L189.1 257.8L189.2 256.9L189.3 256.0L189.4 255.2L189.6 254.4L189.7 253.8L189.8 253.1L189.9 252.6L190.0 252.0L190.1 251.4L190.2 250.8L190.4 250.2L190.5 249.7L190.6 249.2L190.7 248.7L190.8 248.2L190.9 247.7L191.0 247.3L191.1 247.0L191.3 246.6L191.4 246.4L191.5 246.1L191.6 246.0L191.7 245.9L191.8 245.8L191.9 245.9L192.1 246.0L192.2 246.1L192.3 246.3L192.4 246.6L192.5 246.9L192.6 247.2L192.7 247.6L192.9 248.0L193.0 248.5L193.1 249.0L193.2 249.5L193.3 250.0L193.4 250.6L193.5 251.2L193.6 251.7L193.8 252.4L193.9 253.0L194.0 253.6L194.1 254.2L194.2 254.8L194.3 255.5L194.4 256.1L194.6 256.7L194.7 257.2L194.8 257.8L194.9 258.4L195.0 258.9L195.1 259.4L195.2 259.9L195.4 260.3L195.5 260.8L195.6 261.3L195.7 261.8L195.8 262.2L195.9 262.7L196.0 263.2L196.1 263.7L196.3 264.2L196.4 264.7L196.5 265.1L196.6 265.6L196.7 266.1L196.8 266.6L196.9 267.1L197.1 267.6L197.2 268.1L197.3 268.6L197.4 269.0L197.5 269.5L197.6 270.0L197.7 270.5L197.9 271.0L198.0 271.4L198.1 271.9L198.2 272.4L198.3 272.9L198.4 273.3L198.5 273.8L198.6 274.3L198.8 274.7L198.9 275.2L199.0 275.6L199.1 276.1L199.2 276.5L199.3 277.0L199.4 277.4L199.6 277.8L199.7 278.3L199.8 278.7L199.9 279.1L200.0 279.5L200.1 279.9L200.2 280.3L200.3 280.7L200.5 281.2L200.6 281.6L200.7 282.0L200.8 282.4L200.9 282.8L201.0 283.1L201.1 283.5L201.3 283.9L201.4 284.3L201.5 284.7L201.6 285.1L201.7 285.5L201.8 285.9L201.9 286.2L202.1 286.6L202.2 287.0L202.3 287.4L202.4 287.7L202.5 288.1L202.6 288.5L202.7 288.8L202.8 289.2L203.0 289.5L203.1 289.9L203.2 290.3L203.3 290.6L203.4 291.0L203.5 291.3L203.6 291.7L203.8 292.0L203.9 292.3L204.0 292.7L204.1 293.0L204.2 293.4L204.3 293.7L204.4 294.0L204.6 294.4L204.7 294.7L204.8 295.0L204.9 295.3L205.0 295.7L205.1 296.0L205.2 296.3L205.3 296.6L205.5 296.9L205.6 297.2L205.7 297.5L205.8 297.8L205.9 298.2L206.0 298.5L206.1 298.8L206.3 299.1L206.4 299.4L206.5 299.7L206.6 300.0L206.7 300.2L206.8 300.5L206.9 300.8L207.1 301.1L207.2 301.4L207.3 301.7L207.4 302.0L207.5 302.3L207.6 302.5L207.7 302.8L207.8 303.1L208.0 303.4L208.1 303.7L208.2 303.9L208.3 304.2L208.4 304.5L208.5 304.8L208.6 305.0L208.8 305.3L208.9 305.6L209.0 305.8L209.1 306.1L209.2 306.4L209.3 306.6L209.4 306.9L209.6 307.2L209.7 307.4L209.8 307.7L209.9 308.0L210.0 308.2L210.1 308.5L210.2 308.7L210.3 309.0L210.5 309.2L210.6 309.5L210.7 309.7L210.8 310.0L210.9 310.2L211.0 310.5L211.1 310.7L211.3 311.0L211.4 311.2L211.5 311.5L211.6 311.7L211.7 312.0L211.8 312.2L211.9 312.4L212.1 312.7L212.2 312.9L212.3 313.2L212.4 313.4L212.5 313.7L212.6 313.9L212.7 314.1L212.8 314.4L213.0 314.6L213.1 314.9L213.2 315.1L213.3 315.3L213.4 315.6L213.5 315.8L213.6 316.1L213.8 316.3L213.9 316.5L214.0 316.8L214.1 317.0L214.2 317.2L214.3 317.4L214.4 317.7L214.5 317.9L214.7 318.1L214.8 318.3L214.9 318.5L215.0 318.7L215.1 319.0L215.2 319.2L215.3 319.4L215.5 319.6L215.6 319.8L215.7 320.0L215.8 320.2L215.9 320.5L216.0 320.7L216.1 320.9L216.3 321.1L216.4 321.3L216.5 321.5L216.6 321.8L216.7 322.0L216.8 322.2L216.9 322.4L217.0 322.7L217.2 322.9L217.3 323.1L217.4 323.4L217.5 323.6L217.6 323.9L217.7 324.1L217.8 324.4L218.0 324.6L218.1 324.9L218.2 325.2L218.3 325.4L218.4 325.7L218.5 326.0L218.6 326.3L218.8 326.6L218.9 326.9L219.0 327.2L219.1 327.5L219.2 327.8L219.3 328.1L219.4 328.4L219.5 328.7L219.7 329.0L219.8 329.4L219.9 329.7L220.0 330.0L220.1 330.4L220.2 330.7L220.3 331.0L220.5 331.4L220.6 331.7L220.7 332.1L220.8 332.4L220.9 332.8L221.0 333.1L221.1 333.5L221.3 333.8L221.4 334.2L221.5 334.6L221.6 334.9L221.7 335.3L221.8 335.6L221.9 336.0L222.0 336.4L222.2 336.7L222.3 337.1L222.4 337.5L222.5 337.8L222.6 338.2L222.7 338.6L222.8 338.9L223.0 339.3L223.1 339.7L223.2 340.1L223.3 340.4L223.4 340.8L223.5 341.2L223.6 341.6L223.8 342.1L223.9 342.5L224.0 342.9L224.1 343.3L224.2 343.8L224.3 344.2L224.4 344.6L224.5 345.0L224.7 345.5L224.8 345.9L224.9 346.3L225.0 346.7L225.1 347.1L225.2 347.5L225.3 347.9L225.5 348.3L225.6 348.7L225.7 349.1L225.8 349.5L225.9 349.8L226.0 350.2L226.1 350.5L226.3 350.8L226.4 351.1L226.5 351.4L226.6 351.7L226.7 352.0L226.8 352.2L226.9 352.4L227.0 352.7L227.2 352.9L227.3 353.2L227.4 353.4L227.5 353.7L227.6 354.1L227.7 354.5L227.8 354.9L228.0 355.3L228.1 355.7L228.2 356.2L228.3 356.7L228.4 357.2L228.5 357.6L228.6 358.1L228.7 358.6L228.9 359.1L229.0 359.6L229.1 360.1L229.2 360.6L229.3 361.0L229.4 361.5L229.5 361.9L229.7 362.4L229.8 362.9L229.9 363.3L230.0 363.8L230.1 364.3L230.2 364.7L230.3 365.2L230.5 365.7L230.6 366.1L230.7 366.6L230.8 367.1L230.9 367.6L231.0 368.0L231.1 368.5L231.2 369.0L231.4 369.4L231.5 369.9L231.6 370.3L231.7 370.8L231.8 371.3L231.9 371.7L232.0 372.2L232.2 372.6L232.3 373.1L232.4 373.5L232.5 373.9L232.6 374.4L232.7 374.8L232.8 375.2L233.0 375.6L233.1 376.1L233.2 376.5L233.3 376.9L233.4 377.3L233.5 377.7L233.6 378.1L233.7 378.4L233.9 378.8L234.0 379.2L234.1 379.6L234.2 379.9L234.3 380.3L234.4 380.7L234.5 381.0L234.7 381.4L234.8 381.8L234.9 382.1L235.0 382.5L235.1 382.3L235.2 382.1L235.3 381.9L235.5 381.7L235.6 381.4L235.7 381.2L235.8 380.9L235.9 380.7L236.0 380.4L236.1 380.1L236.2 379.9L236.4 379.6L236.5 379.3L236.6 379.0L236.7 378.7L236.8 378.4L236.9 378.1L237.0 377.7L237.2 377.3L237.3 377.0L237.4 376.5L237.5 376.1L237.6 375.6L237.7 375.0L237.8 374.3L238.0 373.5L238.1 372.6L238.2 371.5L238.3 370.4L238.4 369.1L238.5 367.8L238.6 366.3L238.7 364.9L238.9 363.4L239.0 361.8L239.1 360.3L239.2 358.7L239.3 357.2L239.4 355.6L239.5 353.9L239.7 352.2L239.8 350.4L239.9 348.5L240.0 346.6L240.1 344.6L240.2 342.5L240.3 340.4L240.5 338.2L240.6 335.8L240.7 333.2L240.8 330.5L240.9 327.7L241.0 324.9L241.1 322.2L241.2 319.6L241.4 317.1L241.5 314.8L241.6 312.6L241.7 310.4L241.8 308.3L241.9 306.3L242.0 304.4L242.2 302.5L242.3 300.7L242.4 298.9L242.5 297.2L242.6 295.6L242.7 293.9L242.8 292.3L242.9 290.7L243.1 289.1L243.2 287.6L243.3 286.1L243.4 284.6L243.5 283.2L243.6 281.8L243.7 280.4L243.9 279.0L244.0 277.7L244.1 276.4L244.2 275.1L244.3 273.8L244.4 272.6L244.5 271.4L244.7 270.2L244.8 269.0L244.9 267.8L245.0 266.5L245.1 265.4L245.2 264.2L245.3 263.0L245.4 261.9L245.6 260.8L245.7 259.8L245.8 258.8L245.9 257.8L246.0 256.9L246.1 256.0L246.2 255.2L246.4 254.4L246.5 253.8L246.6 253.1L246.7 252.6L246.8 252.0L246.9 251.4L247.0 250.8L247.2 250.2L247.3 249.7L247.4 249.2L247.5 248.7L247.6 248.2L247.7 247.7L247.8 247.3L247.9 247.0L248.1 246.6L248.2 246.4L248.3 246.1L248.4 246.0L248.5 245.9L248.6 245.8L248.7 245.9L248.9 246.0L249.0 246.1L249.1 246.3L249.2 246.6L249.3 246.9L249.4 247.2L249.5 247.6L249.7 248.0L249.8 248.5L249.9 249.0L250.0 249.5L250.1 250.0L250.2 250.6L250.3 251.2L250.4 251.7L250.6 252.4L250.7 253.0L250.8 253.6L250.9 254.2L251.0 254.8L251.1 255.5L251.2 256.1L251.4 256.7L251.5 257.2L251.6 257.8L251.7 258.4L251.8 258.9L251.9 259.4L252.0 259.9L252.2 260.3L252.3 260.8L252.4 261.3L252.5 261.8L252.6 262.2L252.7 262.7L252.8 263.2L252.9 263.7L253.1 264.2L253.2 264.7L253.3 265.1L253.4 265.6L253.5 266.1L253.6 266.6L253.7 267.1L253.9 267.6L254.0 268.1L254.1 268.6L254.2 269.0L254.3 269.5L254.4 270.0L254.5 270.5L254.7 271.0L254.8 271.4L254.9 271.9L255.0 272.4L255.1 272.9L255.2 273.3L255.3 273.8L255.4 274.3L255.6 274.7L255.7 275.2L255.8 275.6L255.9 276.1" stroke="#ff0000" stroke-dasharray="7 3.5"/>
</g>
<rect x="28.7" y="234.8" width="227.2" height="178.5" fill="none" stroke="#5a5a5a" stroke-width="1"/>
<path d="M57.1 413.3v-2.3M57.1 234.8v2.3M85.5 413.3v-2.3M85.5 234.8v2.3M113.9 413.3v-2.3M113.9 234.8v2.3M142.3 413.3v-2.3M142.3 234.8v2.3M170.7 413.3v-2.3M170.7 234.8v2.3M199.1 413.3v-2.3M199.1 234.8v2.3M227.5 413.3v-2.3M227.5 234.8v2.3M28.7 397.1h2.3M255.9 397.1h-2.3M28.7 380.8h2.3M255.9 380.8h-2.3M28.7 364.6h2.3M255.9 364.6h-2.3M28.7 348.4h2.3M255.9 348.4h-2.3M28.7 332.2h2.3M255.9 332.2h-2.3M28.7 315.9h2.3M255.9 315.9h-2.3M28.7 299.7h2.3M255.9 299.7h-2.3M28.7 283.5h2.3M255.9 283.5h-2.3M28.7 267.3h2.3M255.9 267.3h-2.3M28.7 251.0h2.3M255.9 251.0h-2.3" stroke="#5a5a5a" stroke-width="0.9" fill="none"/>
<text transform="translate(30.3 426.0)" text-anchor="middle" font-size="10" stroke="#111" stroke-width="0.15">0</text>
<text transform="translate(58.7 426.0)" text-anchor="middle" font-size="10" stroke="#111" stroke-width="0.15">0.5</text>
<text transform="translate(87.1 426.0)" text-anchor="middle" font-size="10" stroke="#111" stroke-width="0.15">1</text>
<text transform="translate(115.5 426.0)" text-anchor="middle" font-size="10" stroke="#111" stroke-width="0.15">1.5</text>
<text transform="translate(143.9 426.0)" text-anchor="middle" font-size="10" stroke="#111" stroke-width="0.15">2</text>
<text transform="translate(172.3 426.0)" text-anchor="middle" font-size="10" stroke="#111" stroke-width="0.15">2.5</text>
<text transform="translate(200.7 426.0)" text-anchor="middle" font-size="10" stroke="#111" stroke-width="0.15">3</text>
<text transform="translate(229.1 426.0)" text-anchor="middle" font-size="10" stroke="#111" stroke-width="0.15">3.5</text>
<text transform="translate(257.5 426.0)" text-anchor="middle" font-size="10" stroke="#111" stroke-width="0.15">4</text>
<text transform="translate(25.4 418.1)" text-anchor="end" font-size="10" stroke="#111" stroke-width="0.15"><tspan font-size="7.8">−</tspan>6</text>
<text transform="translate(25.4 401.9)" text-anchor="end" font-size="10" stroke="#111" stroke-width="0.15"><tspan font-size="7.8">−</tspan>5</text>
<text transform="translate(25.4 385.6)" text-anchor="end" font-size="10" stroke="#111" stroke-width="0.15"><tspan font-size="7.8">−</tspan>4</text>
<text transform="translate(25.4 369.4)" text-anchor="end" font-size="10" stroke="#111" stroke-width="0.15"><tspan font-size="7.8">−</tspan>3</text>
<text transform="translate(25.4 353.2)" text-anchor="end" font-size="10" stroke="#111" stroke-width="0.15"><tspan font-size="7.8">−</tspan>2</text>
<text transform="translate(25.4 337.0)" text-anchor="end" font-size="10" stroke="#111" stroke-width="0.15"><tspan font-size="7.8">−</tspan>1</text>
<text transform="translate(25.4 320.7)" text-anchor="end" font-size="10" stroke="#111" stroke-width="0.15">0</text>
<text transform="translate(25.4 304.5)" text-anchor="end" font-size="10" stroke="#111" stroke-width="0.15">1</text>
<text transform="translate(25.4 288.3)" text-anchor="end" font-size="10" stroke="#111" stroke-width="0.15">2</text>
<text transform="translate(25.4 272.1)" text-anchor="end" font-size="10" stroke="#111" stroke-width="0.15">3</text>
<text transform="translate(25.4 255.8)" text-anchor="end" font-size="10" stroke="#111" stroke-width="0.15">4</text>
<text transform="translate(25.4 239.6)" text-anchor="end" font-size="10" stroke="#111" stroke-width="0.15">5</text>
<rect x="42.4" y="390.7" width="196.6" height="13.8" fill="#fff" stroke="#5a5a5a" stroke-width="1"/>
<path d="M45.6 397.4H66.4" stroke="#0000ff" stroke-width="1.5"/>
<path d="M139 397.4H161" stroke="#ff0000" stroke-width="1.5" stroke-dasharray="8 5.6 8.4 0"/>
<text transform="translate(71.0 401.6)" text-anchor="start" font-size="10.5" stroke="#111" stroke-width="0.15">With friction<tspan font-style="italic" font-size="10.8">θ</tspan></text>
<text transform="translate(165.0 401.6)" text-anchor="start" font-size="10.5" stroke="#111" stroke-width="0.15">Without friction<tspan font-style="italic" font-size="10.8">θ</tspan></text>
<text transform="translate(127.9 393.0)" text-anchor="start" font-size="13" stroke="#111" stroke-width="0.15">.</text>
<text transform="translate(234.9 392.9)" text-anchor="start" font-size="13" stroke="#111" stroke-width="0.15">.</text>
<text transform="translate(142.8 436.5) scale(0.985 1)" text-anchor="middle" font-size="10.5" stroke="#111" stroke-width="0.15">Time <tspan font-style="italic">t</tspan>/s</text>
<text transform="translate(15.3 324.7) rotate(-90) scale(0.992 1)" text-anchor="middle" font-size="10.5" stroke="#111" stroke-width="0.15">Rotational angular velocity /rad•s<tspan font-size="6.5" dy="-4">−1</tspan></text>
<g clip-path="url(#c5)" fill="none" stroke-width="1.5">
<path d="M317.5 234.8L371.3 413.5" stroke="#ff0000" stroke-dasharray="8 4"/>
<path d="M368.5 236.5V414M483.5 236.5V414" stroke="#00e600" stroke-width="1.3" stroke-dasharray="17.5 9.2"/>
</g>
<path d="M357.5 222.0L357.9 223.0L358.3 224.7L358.6 227.0L359.0 229.8L359.4 233.1L359.8 236.9L360.1 241.0L360.5 245.5L360.9 250.2L361.3 255.2L361.6 260.3L362.0 265.5L362.4 270.8L362.8 276.1L363.2 281.4L363.5 286.6L363.9 291.6L364.3 296.4L364.7 300.9L365.0 305.1L365.4 309.1L365.8 312.8L366.2 316.2L366.6 319.4L366.9 322.5L367.3 325.4L367.7 328.2L368.1 330.9L368.4 333.6L368.8 336.2L369.2 338.8L369.6 341.3L369.9 343.8L370.3 346.2L370.7 348.6L371.1 350.9L371.5 353.1L371.8 355.2L372.2 357.2L372.6 359.1L373.0 360.8L373.3 362.5L373.7 364.0L374.1 365.4L374.5 366.6L374.9 367.8L375.2 368.7L375.6 369.6L376.0 370.3L376.4 370.9L376.7 371.4L377.1 371.7L377.5 371.9L377.9 372.0L378.2 372.0L378.6 371.8L379.0 371.5L379.4 371.0L379.8 370.5L380.1 369.8L380.5 369.0L380.9 368.1L381.3 367.1L381.6 365.9L382.0 364.7L382.4 363.4L382.8 361.9L383.1 360.4L383.5 358.8L383.9 357.0L384.3 355.2L384.7 353.4L385.0 351.5L385.4 349.5L385.8 347.5L386.2 345.4L386.5 343.3L386.9 341.2L387.3 339.1L387.7 336.9L388.1 334.8L388.4 332.6L388.8 330.5L389.2 328.4L389.6 326.4L389.9 324.3L390.3 322.3L390.7 320.4L391.1 318.5L391.4 316.7L391.8 315.0L392.2 313.3L392.6 311.6L393.0 310.1L393.3 308.6L393.7 307.2L394.1 305.8L394.5 304.6L394.8 303.5L395.2 302.4L395.6 301.4L396.0 300.6L396.4 299.8L396.7 299.1L397.1 298.5L397.5 298.0L397.9 297.6L398.2 297.2L398.6 297.0L399.0 296.9L399.4 296.8L399.7 296.8L400.1 297.0L400.5 297.2L400.9 297.5L401.3 297.8L401.6 298.3L402.0 298.9L402.4 299.5L402.8 300.2L403.1 301.0L403.5 301.8L403.9 302.7L404.3 303.7L404.6 304.8L405.0 305.9L405.4 307.1L405.8 308.3L406.2 309.6L406.5 311.0L406.9 312.3L407.3 313.7L407.7 315.1L408.0 316.6L408.4 318.0L408.8 319.5L409.2 321.0L409.6 322.4L409.9 323.9L410.3 325.4L410.7 326.8L411.1 328.2L411.4 329.6L411.8 331.0L412.2 332.3L412.6 333.6L412.9 334.9L413.3 336.2L413.7 337.4L414.1 338.5L414.5 339.6L414.8 340.7L415.2 341.8L415.6 342.7L416.0 343.7L416.3 344.6L416.7 345.4L417.1 346.2L417.5 346.9L417.9 347.6L418.2 348.2L418.6 348.8L419.0 349.3L419.4 349.7L419.7 350.1L420.1 350.4L420.5 350.7L420.9 350.9L421.2 351.1L421.6 351.2L422.0 351.2L422.4 351.2L422.8 351.1L423.1 351.0L423.5 350.8L423.9 350.5L424.3 350.2L424.6 349.9L425.0 349.5L425.4 349.1L425.8 348.7L426.1 348.2L426.5 347.7L426.9 347.1L427.3 346.6L427.7 346.0L428.0 345.4L428.4 344.7L428.8 344.1L429.2 343.4L429.5 342.7L429.9 342.0L430.3 341.3L430.7 340.5L431.1 339.8L431.4 339.1L431.8 338.3L432.2 337.6L432.6 336.8L432.9 336.1L433.3 335.3L433.7 334.6L434.1 333.9L434.4 333.1L434.8 332.4L435.2 331.7L435.6 331.0L436.0 330.3L436.3 329.7L436.7 329.0L437.1 328.4L437.5 327.8L437.8 327.2L438.2 326.6L438.6 326.0L439.0 325.5L439.4 325.0L439.7 324.5L440.1 324.0L440.5 323.6L440.9 323.1L441.2 322.8L441.6 322.4L442.0 322.1L442.4 321.8L442.7 321.5L443.1 321.2L443.5 321.0L443.9 320.8L444.3 320.7L444.6 320.6L445.0 320.5L445.4 320.4L445.8 320.4L446.1 320.4L446.5 320.4L446.9 320.5L447.3 320.6L447.6 320.7L448.0 320.9L448.4 321.1L448.8 321.3L449.2 321.5L449.5 321.8L449.9 322.0L450.3 322.4L450.7 322.7L451.0 323.0L451.4 323.4L451.8 323.8L452.2 324.2L452.6 324.7L452.9 325.1L453.3 325.6L453.7 326.1L454.1 326.6L454.4 327.1L454.8 327.6L455.2 328.2L455.6 328.7L455.9 329.3L456.3 329.9L456.7 330.4L457.1 331.0L457.5 331.6L457.8 332.2L458.2 332.8L458.6 333.4L459.0 333.9L459.3 334.5L459.7 335.1L460.1 335.7L460.5 336.3L460.9 336.9L461.2 337.5L461.6 338.0L462.0 338.6L462.4 339.2L462.7 339.8L463.1 340.3L463.5 340.9L463.9 341.5L464.2 342.0L464.6 342.6L465.0 343.1L465.4 343.7L465.8 344.2L466.1 344.8L466.5 345.3L466.9 345.8L467.3 346.4L467.6 346.9L468.0 347.4L468.4 347.9L468.8 348.4L469.1 349.0L469.5 349.5L469.9 350.0L470.3 350.5L470.7 351.0L471.0 351.5L471.4 352.0L471.8 352.5L472.2 352.9L472.5 353.4L472.9 353.9L473.3 354.4L473.7 354.9L474.1 355.4L474.4 355.9L474.8 356.4L475.2 356.9L475.6 357.4L475.9 357.9L476.3 358.4L476.7 358.9L477.1 359.4L477.4 360.0L477.8 360.5L478.2 361.0L478.6 361.5L479.0 362.1L479.3 362.6L479.7 363.1L480.1 363.7L480.5 364.3L480.8 364.8L481.2 365.4L481.6 366.0L482.0 366.5L482.4 367.1L482.7 367.7L483.1 368.4L483.5 369.0L483.9 369.6L484.2 370.2L484.6 370.9L485.0 371.5L485.4 372.2L485.7 372.9L486.1 373.6L486.5 374.3L486.9 375.0L487.3 375.7L487.6 376.4L488.0 377.1L488.4 377.8L488.8 378.5L489.1 379.3L489.5 380.0L489.9 380.8L490.3 381.5L490.6 382.3L491.0 383.1L491.4 383.9L491.8 384.6L492.2 385.4L492.5 386.2L492.9 387.0L493.3 387.8L493.7 388.6L494.0 389.4L494.4 390.3L494.8 391.1L495.2 391.9L495.6 392.8L495.9 393.6L496.3 394.4L496.7 395.3L497.1 396.1L497.4 397.0L497.8 397.9L498.2 398.7L498.6 399.6L498.9 400.5L499.3 401.4L499.7 402.3L500.1 403.2L500.5 404.1L500.8 405.0L501.2 406.0L501.6 406.9L502.0 407.9L502.3 408.8L502.7 409.8L503.1 410.8L503.5 411.8L503.9 412.8L504.2 413.9L504.6 414.9L505.0 416.0L505.4 417.0L505.7 418.1L506.1 419.2L506.5 420.3L506.9 421.5L507.2 422.6L507.6 423.8L508.0 425.0" stroke="#0000ff" stroke-width="1.5" fill="none" clip-path="url(#c5)" stroke-linejoin="round"/>
<rect x="308.8" y="234.8" width="226.3" height="178.6" fill="none" stroke="#5a5a5a" stroke-width="1"/>
<path d="M346.5 413.4v-2.3M346.5 234.8v2.3M384.2 413.4v-2.3M384.2 234.8v2.3M421.9 413.4v-2.3M421.9 234.8v2.3M459.7 413.4v-2.3M459.7 234.8v2.3M497.4 413.4v-2.3M497.4 234.8v2.3M308.8 383.6h2.3M535.1 383.6h-2.3M308.8 353.9h2.3M535.1 353.9h-2.3M308.8 324.1h2.3M535.1 324.1h-2.3M308.8 294.3h2.3M535.1 294.3h-2.3M308.8 264.6h2.3M535.1 264.6h-2.3" stroke="#5a5a5a" stroke-width="0.9" fill="none"/>
<text transform="translate(311.1 426.0) scale(1.02 1)" text-anchor="middle" font-size="10" stroke="#111" stroke-width="0.15">2.24</text>
<text transform="translate(346.9 426.0) scale(1.02 1)" text-anchor="middle" font-size="10" stroke="#111" stroke-width="0.15">2.25</text>
<text transform="translate(385.0 426.0) scale(1.02 1)" text-anchor="middle" font-size="10" stroke="#111" stroke-width="0.15">2.26</text>
<text transform="translate(422.3 426.0) scale(1.02 1)" text-anchor="middle" font-size="10" stroke="#111" stroke-width="0.15">2.27</text>
<text transform="translate(460.6 426.0) scale(1.02 1)" text-anchor="middle" font-size="10" stroke="#111" stroke-width="0.15">2.28</text>
<text transform="translate(498.3 426.0) scale(1.02 1)" text-anchor="middle" font-size="10" stroke="#111" stroke-width="0.15">2.29</text>
<text transform="translate(537.1 426.0) scale(1.02 1)" text-anchor="middle" font-size="10" stroke="#111" stroke-width="0.15">2.3</text>
<text transform="translate(306.2 415.9) scale(1.02 1)" text-anchor="end" font-size="10" stroke="#111" stroke-width="0.15"><tspan font-size="7.8">−</tspan>0.06</text>
<text transform="translate(306.2 388.5) scale(1.02 1)" text-anchor="end" font-size="10" stroke="#111" stroke-width="0.15"><tspan font-size="7.8">−</tspan>0.04</text>
<text transform="translate(306.2 358.6) scale(1.02 1)" text-anchor="end" font-size="10" stroke="#111" stroke-width="0.15"><tspan font-size="7.8">−</tspan>0.02</text>
<text transform="translate(306.2 328.6) scale(1.02 1)" text-anchor="end" font-size="10" stroke="#111" stroke-width="0.15">0</text>
<text transform="translate(306.2 298.6) scale(1.02 1)" text-anchor="end" font-size="10" stroke="#111" stroke-width="0.15">0.02</text>
<text transform="translate(306.2 268.8) scale(1.02 1)" text-anchor="end" font-size="10" stroke="#111" stroke-width="0.15">0.04</text>
<text transform="translate(306.2 239.0) scale(1.02 1)" text-anchor="end" font-size="10" stroke="#111" stroke-width="0.15">0.06</text>
<text transform="translate(422.3 436.5) scale(0.985 1)" text-anchor="middle" font-size="10.5" stroke="#111" stroke-width="0.15">Time <tspan font-style="italic">t</tspan>/s</text>
<text transform="translate(282.8 324.7) rotate(-90) scale(0.992 1)" text-anchor="middle" font-size="10.5" stroke="#111" stroke-width="0.15">Rotational angular velocity /rad•s<tspan font-size="6.5" dy="-4">−1</tspan></text>
<text transform="translate(274.7 453.0) scale(1.07 1)" text-anchor="middle" font-size="14" stroke="#111" stroke-width="0.15" font-weight="bold" fill="#000">(b)</text>
</svg></body></html>
